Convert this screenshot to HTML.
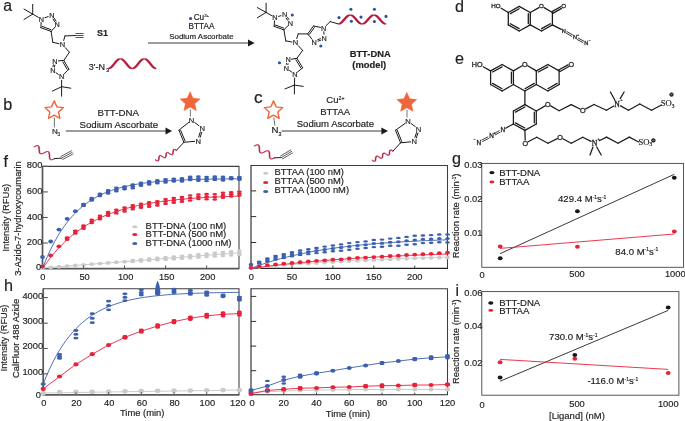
<!DOCTYPE html>
<html lang="en"><head><meta charset="utf-8"><title>BTT-DNA figure</title>
<style>html,body{margin:0;padding:0;background:#fff;}body{width:685px;height:421px;overflow:hidden;}svg{display:block;}svg text{font-family:"Liberation Sans", sans-serif;stroke:#1f1f1f;stroke-width:0.18px;}</style></head><body>
<svg width="685" height="421" viewBox="0 0 685 421">
<rect width="685" height="421" fill="#fff"/>
<text x="3.2" y="11" font-size="15.8" text-anchor="start" fill="#1f1f1f" >a</text>
<text x="3.2" y="110.3" font-size="16.2" text-anchor="start" fill="#1f1f1f" >b</text>
<text x="253.9" y="102.7" font-size="17.2" text-anchor="start" fill="#1f1f1f" style='stroke-width:0.25px' >c</text>
<text x="455" y="12" font-size="16.2" text-anchor="start" fill="#1f1f1f" >d</text>
<text x="455" y="63.8" font-size="16.2" text-anchor="start" fill="#1f1f1f" >e</text>
<text x="3.6" y="166.5" font-size="16.2" text-anchor="start" fill="#1f1f1f" >f</text>
<text x="452" y="164.3" font-size="16.2" text-anchor="start" fill="#1f1f1f" >g</text>
<text x="4" y="291" font-size="16.2" text-anchor="start" fill="#1f1f1f" >h</text>
<text x="455.4" y="296.3" font-size="15.6" text-anchor="start" fill="#1f1f1f" >i</text>
<line x1="32.7" y1="14.1" x2="32.7" y2="4.4" stroke="#1c1c1c" stroke-width="1.0" stroke-linecap="round"/>
<line x1="32.7" y1="14.1" x2="24" y2="9.05" stroke="#1c1c1c" stroke-width="1.0" stroke-linecap="round"/>
<line x1="32.7" y1="14.1" x2="24" y2="19.5" stroke="#1c1c1c" stroke-width="1.0" stroke-linecap="round"/>
<line x1="32.7" y1="14.1" x2="38.43" y2="17.37" stroke="#1c1c1c" stroke-width="1.0" stroke-linecap="round"/>
<line x1="44.98" y1="17.7" x2="48.12" y2="16.6" stroke="#1c1c1c" stroke-width="1.0" stroke-linecap="round"/>
<line x1="54.38" y1="18.32" x2="55.92" y2="21.04" stroke="#1c1c1c" stroke-width="1.0" stroke-linecap="round"/>
<line x1="53.08" y1="19.06" x2="54.62" y2="21.78" stroke="#1c1c1c" stroke-width="1.0" stroke-linecap="round"/>
<line x1="54.89" y1="27.3" x2="51.1" y2="31.4" stroke="#1c1c1c" stroke-width="1.0" stroke-linecap="round"/>
<line x1="51.1" y1="31.4" x2="40.9" y2="27.7" stroke="#1c1c1c" stroke-width="1.0" stroke-linecap="round"/>
<line x1="50.89" y1="29.62" x2="42.2" y2="26.47" stroke="#1c1c1c" stroke-width="1.0" stroke-linecap="round"/>
<line x1="40.9" y1="27.7" x2="41.14" y2="22.4" stroke="#1c1c1c" stroke-width="1.0" stroke-linecap="round"/>
<text x="41.3" y="21.63" font-size="7.3" text-anchor="middle" fill="#1f1f1f" >N</text>
<text x="51.8" y="17.93" font-size="7.3" text-anchor="middle" fill="#1f1f1f" >N</text>
<text x="57.2" y="27.43" font-size="7.3" text-anchor="middle" fill="#1f1f1f" >N</text>
<line x1="51.1" y1="31.4" x2="52.8" y2="42.3" stroke="#1c1c1c" stroke-width="1.0" stroke-linecap="round"/>
<line x1="52.8" y1="42.3" x2="58.99" y2="43.7" stroke="#1c1c1c" stroke-width="1.0" stroke-linecap="round"/>
<text x="62.5" y="47.2" font-size="7.5" text-anchor="middle" fill="#1f1f1f" >N</text>
<line x1="63.67" y1="40.47" x2="65" y2="35.9" stroke="#1c1c1c" stroke-width="1.0" stroke-linecap="round"/>
<line x1="65" y1="35.9" x2="75.5" y2="35.5" stroke="#1c1c1c" stroke-width="1.0" stroke-linecap="round"/>
<line x1="75.5" y1="33.5" x2="83.6" y2="33.5" stroke="#1c1c1c" stroke-width="0.75" />
<line x1="75.5" y1="35.5" x2="83.6" y2="35.5" stroke="#1c1c1c" stroke-width="0.75" />
<line x1="75.5" y1="37.5" x2="83.6" y2="37.5" stroke="#1c1c1c" stroke-width="0.75" />
<line x1="65.3" y1="47.63" x2="69.4" y2="52.2" stroke="#1c1c1c" stroke-width="1.0" stroke-linecap="round"/>
<line x1="69.4" y1="52.2" x2="63.8" y2="60.4" stroke="#1c1c1c" stroke-width="1.0" stroke-linecap="round"/>
<line x1="58.34" y1="74.35" x2="56.06" y2="72.85" stroke="#1c1c1c" stroke-width="1.0" stroke-linecap="round"/>
<line x1="52.95" y1="66.73" x2="53.39" y2="64.83" stroke="#1c1c1c" stroke-width="1.0" stroke-linecap="round"/>
<line x1="54.41" y1="67.07" x2="54.85" y2="65.17" stroke="#1c1c1c" stroke-width="1.0" stroke-linecap="round"/>
<line x1="58.39" y1="60.89" x2="63.8" y2="60.4" stroke="#1c1c1c" stroke-width="1.0" stroke-linecap="round"/>
<line x1="63.8" y1="60.4" x2="68.9" y2="69.2" stroke="#1c1c1c" stroke-width="1.0" stroke-linecap="round"/>
<line x1="62.82" y1="61.89" x2="67.11" y2="69.31" stroke="#1c1c1c" stroke-width="1.0" stroke-linecap="round"/>
<line x1="68.9" y1="69.2" x2="64" y2="74.1" stroke="#1c1c1c" stroke-width="1.0" stroke-linecap="round"/>
<text x="61.6" y="79.13" font-size="7.3" text-anchor="middle" fill="#1f1f1f" >N</text>
<text x="52.8" y="73.33" font-size="7.3" text-anchor="middle" fill="#1f1f1f" >N</text>
<text x="55" y="63.83" font-size="7.3" text-anchor="middle" fill="#1f1f1f" >N</text>
<line x1="61.6" y1="86.7" x2="52.4" y2="91.1" stroke="#1c1c1c" stroke-width="1.0" stroke-linecap="round"/>
<line x1="61.6" y1="86.7" x2="70.8" y2="88.2" stroke="#1c1c1c" stroke-width="1.0" stroke-linecap="round"/>
<line x1="61.6" y1="86.7" x2="61.6" y2="96.2" stroke="#1c1c1c" stroke-width="1.0" stroke-linecap="round"/>
<line x1="61.6" y1="86.7" x2="61.6" y2="80.3" stroke="#1c1c1c" stroke-width="1.0" stroke-linecap="round"/>
<text x="96.9" y="36.4" font-size="9.0" text-anchor="start" fill="#1f1f1f" font-weight="bold" >S1</text>
<text x="88.8" y="69.9" font-size="9" text-anchor="start" fill="#1f1f1f" >3'-N</text>
<text x="106.3" y="71.8" font-size="5.4" text-anchor="start" fill="#1f1f1f" >3</text>
<path d="M108.4 67.97 L108.8 67.8 L109.2 67.59 L109.59 67.33 L109.99 67.02 L110.39 66.67 L110.79 66.29 L111.19 65.87 L111.59 65.43 L111.98 64.96 L112.38 64.47 L112.78 63.97 L113.18 63.46 L113.58 62.95 L113.98 62.44 L114.38 61.95 L114.77 61.46 L115.17 61 L115.57 60.56 L115.97 60.15 L116.37 59.78 L116.77 59.44 L117.16 59.15 L117.56 58.9 L117.96 58.7 L118.36 58.55 L118.76 58.45 L119.16 58.4 L119.55 58.41 L119.95 58.47 L120.35 58.58 L120.75 58.47 L121.15 58.41 L121.55 58.4 L121.94 58.45 L122.34 58.55 L122.74 58.7 L123.14 58.9 L123.54 59.15 L123.94 59.44 L124.33 59.78 L124.73 60.15 L125.13 60.56 L125.53 61 L125.93 61.46 L126.33 61.95 L126.72 62.44 L127.12 62.95 L127.52 63.46 L127.92 63.97 L128.32 64.47 L128.72 64.96 L129.11 65.43 L129.51 65.87 L129.91 66.29 L130.31 66.67 L130.71 67.02 L131.1 67.33 L131.5 67.59 L131.9 67.8 L132.3 67.97 L132.7 67.8 L133.1 67.59 L133.5 67.33 L133.89 67.02 L134.29 66.67 L134.69 66.29 L135.09 65.87 L135.49 65.43 L135.88 64.96 L136.28 64.47 L136.68 63.97 L137.08 63.46 L137.48 62.95 L137.88 62.44 L138.28 61.95 L138.67 61.46 L139.07 61 L139.47 60.56 L139.87 60.15 L140.27 59.78 L140.66 59.44 L141.06 59.15 L141.46 58.9 L141.86 58.7 L142.26 58.55 L142.66 58.45 L143.06 58.4 L143.45 58.41 L143.85 58.47 L144.25 58.58 L144.65 58.47 L145.05 58.41 L145.44 58.4 L145.84 58.45 L146.24 58.55 L146.64 58.7 L147.04 58.9 L147.44 59.15 L147.83 59.44 L148.23 59.78 L148.63 60.15 L149.03 60.56 L149.43 61 L149.83 61.46 L150.22 61.95 L150.62 62.44 L151.02 62.95 L151.42 63.46 L151.82 63.97 L152.22 64.47 L152.62 64.96 L153.01 65.43 L153.41 65.87 L153.81 66.29 L154.21 66.67 L154.61 67.02 L155 67.33 L155.4 67.59 L155.8 67.8 L156.2 67.97 L156.2 68.9 L155.8 68.9 L155.4 68.9 L155 68.9 L154.61 68.85 L154.21 68.75 L153.81 68.6 L153.41 68.4 L153.01 68.15 L152.62 67.86 L152.22 67.52 L151.82 67.15 L151.42 66.74 L151.02 66.3 L150.62 65.84 L150.22 65.35 L149.83 64.86 L149.43 64.35 L149.03 63.84 L148.63 63.33 L148.23 62.83 L147.83 62.34 L147.44 61.87 L147.04 61.43 L146.64 61.01 L146.24 60.63 L145.84 60.28 L145.44 59.97 L145.05 59.71 L144.65 59.5 L144.25 59.33 L143.85 59.5 L143.45 59.71 L143.06 59.97 L142.66 60.28 L142.26 60.63 L141.86 61.01 L141.46 61.43 L141.06 61.87 L140.66 62.34 L140.27 62.83 L139.87 63.33 L139.47 63.84 L139.07 64.35 L138.67 64.86 L138.28 65.35 L137.88 65.84 L137.48 66.3 L137.08 66.74 L136.68 67.15 L136.28 67.52 L135.88 67.86 L135.49 68.15 L135.09 68.4 L134.69 68.6 L134.29 68.75 L133.89 68.85 L133.5 68.9 L133.1 68.89 L132.7 68.83 L132.3 68.72 L131.9 68.83 L131.5 68.89 L131.1 68.9 L130.71 68.85 L130.31 68.75 L129.91 68.6 L129.51 68.4 L129.11 68.15 L128.72 67.86 L128.32 67.52 L127.92 67.15 L127.52 66.74 L127.12 66.3 L126.72 65.84 L126.33 65.35 L125.93 64.86 L125.53 64.35 L125.13 63.84 L124.73 63.33 L124.33 62.83 L123.94 62.34 L123.54 61.87 L123.14 61.43 L122.74 61.01 L122.34 60.63 L121.94 60.28 L121.55 59.97 L121.15 59.71 L120.75 59.5 L120.35 59.33 L119.95 59.5 L119.55 59.71 L119.16 59.97 L118.76 60.28 L118.36 60.63 L117.96 61.01 L117.56 61.43 L117.16 61.87 L116.77 62.34 L116.37 62.83 L115.97 63.33 L115.57 63.84 L115.17 64.35 L114.77 64.86 L114.38 65.35 L113.98 65.84 L113.58 66.3 L113.18 66.74 L112.78 67.15 L112.38 67.52 L111.98 67.86 L111.59 68.15 L111.19 68.4 L110.79 68.6 L110.39 68.75 L109.99 68.85 L109.59 68.9 L109.2 68.9 L108.8 68.9 L108.4 68.9Z" fill="#b5183b" stroke="#b5183b" stroke-width="0.3" stroke-linejoin="round"/>
<line x1="148" y1="43" x2="249" y2="43" stroke="#3a3a3a" stroke-width="1.0" />
<polygon points="254.6,43 248,39.6 248,46.4" fill="#1a1a1a"/>
<circle cx="190.6" cy="18.5" r="1.6" fill="#2e4fa3"/>
<text x="201.4" y="19.8" font-size="8.2" text-anchor="middle" fill="#1f1f1f" >Cu<tspan font-size="4.4" dy="-2.6">2+</tspan></text>
<text x="201.5" y="29.2" font-size="8.2" text-anchor="middle" fill="#1f1f1f" >BTTAA</text>
<text x="201.4" y="38.7" font-size="7.95" text-anchor="middle" fill="#1f1f1f" >Sodium Ascorbate</text>
<line x1="266.1" y1="12.4" x2="266.1" y2="3.2" stroke="#1c1c1c" stroke-width="1.0" stroke-linecap="round"/>
<line x1="266.1" y1="12.4" x2="257.3" y2="7.6" stroke="#1c1c1c" stroke-width="1.0" stroke-linecap="round"/>
<line x1="266.1" y1="12.4" x2="257.3" y2="17.8" stroke="#1c1c1c" stroke-width="1.0" stroke-linecap="round"/>
<line x1="266.1" y1="12.4" x2="271.95" y2="15.83" stroke="#1c1c1c" stroke-width="1.0" stroke-linecap="round"/>
<line x1="278.54" y1="16.4" x2="280.96" y2="15.7" stroke="#1c1c1c" stroke-width="1.0" stroke-linecap="round"/>
<line x1="287.5" y1="17.42" x2="288.85" y2="19.44" stroke="#1c1c1c" stroke-width="1.0" stroke-linecap="round"/>
<line x1="286.25" y1="18.26" x2="287.6" y2="20.28" stroke="#1c1c1c" stroke-width="1.0" stroke-linecap="round"/>
<line x1="288.05" y1="25.56" x2="283.9" y2="29.9" stroke="#1c1c1c" stroke-width="1.0" stroke-linecap="round"/>
<line x1="283.9" y1="29.9" x2="274.1" y2="26.3" stroke="#1c1c1c" stroke-width="1.0" stroke-linecap="round"/>
<line x1="283.7" y1="28.12" x2="275.4" y2="25.07" stroke="#1c1c1c" stroke-width="1.0" stroke-linecap="round"/>
<line x1="274.1" y1="26.3" x2="274.53" y2="20.89" stroke="#1c1c1c" stroke-width="1.0" stroke-linecap="round"/>
<text x="274.8" y="20.13" font-size="7.3" text-anchor="middle" fill="#1f1f1f" >N</text>
<text x="284.7" y="17.23" font-size="7.3" text-anchor="middle" fill="#1f1f1f" >N</text>
<text x="290.4" y="25.73" font-size="7.3" text-anchor="middle" fill="#1f1f1f" >N</text>
<circle cx="292.3" cy="15" r="1.55" fill="#2e4fa3"/>
<line x1="283.9" y1="29.9" x2="285.8" y2="40.9" stroke="#1c1c1c" stroke-width="1.0" stroke-linecap="round"/>
<line x1="285.8" y1="40.9" x2="291.95" y2="41.98" stroke="#1c1c1c" stroke-width="1.0" stroke-linecap="round"/>
<text x="295.5" y="45.3" font-size="7.5" text-anchor="middle" fill="#1f1f1f" >N</text>
<line x1="296.74" y1="38.59" x2="298.2" y2="33.9" stroke="#1c1c1c" stroke-width="1.0" stroke-linecap="round"/>
<line x1="298.2" y1="33.9" x2="307.7" y2="33.9" stroke="#1c1c1c" stroke-width="1.0" stroke-linecap="round"/>
<line x1="307.7" y1="33.9" x2="313.5" y2="26" stroke="#1c1c1c" stroke-width="1.0" stroke-linecap="round"/>
<line x1="309.46" y1="34.2" x2="314.32" y2="27.59" stroke="#1c1c1c" stroke-width="1.0" stroke-linecap="round"/>
<line x1="313.5" y1="26" x2="320.46" y2="27.37" stroke="#1c1c1c" stroke-width="1.0" stroke-linecap="round"/>
<line x1="323.89" y1="31.8" x2="324.01" y2="34.2" stroke="#1c1c1c" stroke-width="1.0" stroke-linecap="round"/>
<line x1="320.84" y1="40.12" x2="318.11" y2="41.18" stroke="#1c1c1c" stroke-width="1.0" stroke-linecap="round"/>
<line x1="320.29" y1="38.72" x2="317.56" y2="39.78" stroke="#1c1c1c" stroke-width="1.0" stroke-linecap="round"/>
<line x1="312.12" y1="39.34" x2="307.7" y2="33.9" stroke="#1c1c1c" stroke-width="1.0" stroke-linecap="round"/>
<text x="323.7" y="30.63" font-size="7.3" text-anchor="middle" fill="#1f1f1f" >N</text>
<text x="324.2" y="40.63" font-size="7.3" text-anchor="middle" fill="#1f1f1f" >N</text>
<text x="314.2" y="44.53" font-size="7.3" text-anchor="middle" fill="#1f1f1f" >N</text>
<circle cx="320.8" cy="46" r="1.55" fill="#2e4fa3"/>
<line x1="326.12" y1="25.61" x2="330.2" y2="21.6" stroke="#1c1c1c" stroke-width="1.0" stroke-linecap="round"/>
<line x1="330.2" y1="21.6" x2="337.9" y2="23.8" stroke="#1c1c1c" stroke-width="1.0" stroke-linecap="round"/>
<circle cx="339" cy="17.6" r="1.55" fill="#2e4fa3"/>
<line x1="298.33" y1="45.71" x2="302.6" y2="50.4" stroke="#1c1c1c" stroke-width="1.0" stroke-linecap="round"/>
<line x1="302.6" y1="50.4" x2="296.9" y2="58.3" stroke="#1c1c1c" stroke-width="1.0" stroke-linecap="round"/>
<line x1="291.6" y1="71.98" x2="289.5" y2="70.52" stroke="#1c1c1c" stroke-width="1.0" stroke-linecap="round"/>
<line x1="286.37" y1="64.33" x2="286.56" y2="63.46" stroke="#1c1c1c" stroke-width="1.0" stroke-linecap="round"/>
<line x1="287.84" y1="64.64" x2="288.03" y2="63.77" stroke="#1c1c1c" stroke-width="1.0" stroke-linecap="round"/>
<line x1="291.45" y1="59.23" x2="296.9" y2="58.3" stroke="#1c1c1c" stroke-width="1.0" stroke-linecap="round"/>
<line x1="296.9" y1="58.3" x2="302.7" y2="67.8" stroke="#1c1c1c" stroke-width="1.0" stroke-linecap="round"/>
<line x1="295.95" y1="59.82" x2="300.92" y2="67.95" stroke="#1c1c1c" stroke-width="1.0" stroke-linecap="round"/>
<line x1="302.7" y1="67.8" x2="297.44" y2="72.06" stroke="#1c1c1c" stroke-width="1.0" stroke-linecap="round"/>
<text x="294.8" y="76.83" font-size="7.3" text-anchor="middle" fill="#1f1f1f" >N</text>
<text x="286.3" y="70.93" font-size="7.3" text-anchor="middle" fill="#1f1f1f" >N</text>
<text x="288.1" y="62.43" font-size="7.3" text-anchor="middle" fill="#1f1f1f" >N</text>
<circle cx="279.5" cy="62.8" r="1.55" fill="#2e4fa3"/>
<line x1="294.4" y1="85.1" x2="285" y2="88.9" stroke="#1c1c1c" stroke-width="1.0" stroke-linecap="round"/>
<line x1="294.4" y1="85.1" x2="303.2" y2="86.4" stroke="#1c1c1c" stroke-width="1.0" stroke-linecap="round"/>
<line x1="294.4" y1="85.1" x2="294.4" y2="93.9" stroke="#1c1c1c" stroke-width="1.0" stroke-linecap="round"/>
<line x1="294.4" y1="85.1" x2="294.66" y2="78" stroke="#1c1c1c" stroke-width="1.0" stroke-linecap="round"/>
<path d="M338.3 23.48 L338.7 23.32 L339.09 23.12 L339.49 22.88 L339.89 22.6 L340.28 22.28 L340.68 21.92 L341.08 21.53 L341.47 21.12 L341.87 20.68 L342.27 20.23 L342.66 19.76 L343.06 19.29 L343.46 18.82 L343.85 18.35 L344.25 17.89 L344.65 17.44 L345.04 17.01 L345.44 16.6 L345.84 16.22 L346.23 15.88 L346.63 15.56 L347.03 15.29 L347.42 15.06 L347.82 14.88 L348.22 14.74 L348.61 14.65 L349.01 14.6 L349.41 14.61 L349.8 14.67 L350.2 14.77 L350.6 14.67 L350.99 14.61 L351.39 14.6 L351.79 14.65 L352.18 14.74 L352.58 14.88 L352.98 15.06 L353.37 15.29 L353.77 15.56 L354.17 15.88 L354.56 16.22 L354.96 16.6 L355.36 17.01 L355.75 17.44 L356.15 17.89 L356.55 18.35 L356.94 18.82 L357.34 19.29 L357.74 19.76 L358.13 20.23 L358.53 20.68 L358.93 21.12 L359.32 21.53 L359.72 21.92 L360.12 22.28 L360.51 22.6 L360.91 22.88 L361.31 23.12 L361.7 23.32 L362.1 23.48 L362.5 23.32 L362.89 23.12 L363.29 22.88 L363.69 22.6 L364.08 22.28 L364.48 21.92 L364.88 21.53 L365.27 21.12 L365.67 20.68 L366.07 20.23 L366.46 19.76 L366.86 19.29 L367.26 18.82 L367.65 18.35 L368.05 17.89 L368.45 17.44 L368.84 17.01 L369.24 16.6 L369.64 16.22 L370.03 15.88 L370.43 15.56 L370.83 15.29 L371.22 15.06 L371.62 14.88 L372.02 14.74 L372.41 14.65 L372.81 14.6 L373.21 14.61 L373.6 14.67 L374 14.77 L374.4 14.67 L374.79 14.61 L375.19 14.6 L375.59 14.65 L375.98 14.74 L376.38 14.88 L376.78 15.06 L377.17 15.29 L377.57 15.56 L377.97 15.88 L378.36 16.22 L378.76 16.6 L379.16 17.01 L379.55 17.44 L379.95 17.89 L380.35 18.35 L380.74 18.82 L381.14 19.29 L381.54 19.76 L381.93 20.23 L382.33 20.68 L382.73 21.12 L383.12 21.53 L383.52 21.92 L383.92 22.28 L384.31 22.6 L384.71 22.88 L385.11 23.12 L385.5 23.32 L385.9 23.48 L385.9 24.4 L385.5 24.4 L385.11 24.4 L384.71 24.4 L384.31 24.35 L383.92 24.26 L383.52 24.12 L383.12 23.94 L382.73 23.71 L382.33 23.44 L381.93 23.12 L381.54 22.78 L381.14 22.4 L380.74 21.99 L380.35 21.56 L379.95 21.11 L379.55 20.65 L379.16 20.18 L378.76 19.71 L378.36 19.24 L377.97 18.77 L377.57 18.32 L377.17 17.88 L376.78 17.47 L376.38 17.08 L375.98 16.72 L375.59 16.4 L375.19 16.12 L374.79 15.88 L374.4 15.68 L374 15.52 L373.6 15.68 L373.21 15.88 L372.81 16.12 L372.41 16.4 L372.02 16.72 L371.62 17.08 L371.22 17.47 L370.83 17.88 L370.43 18.32 L370.03 18.77 L369.64 19.24 L369.24 19.71 L368.84 20.18 L368.45 20.65 L368.05 21.11 L367.65 21.56 L367.26 21.99 L366.86 22.4 L366.46 22.78 L366.07 23.12 L365.67 23.44 L365.27 23.71 L364.88 23.94 L364.48 24.12 L364.08 24.26 L363.69 24.35 L363.29 24.4 L362.89 24.39 L362.5 24.33 L362.1 24.23 L361.7 24.33 L361.31 24.39 L360.91 24.4 L360.51 24.35 L360.12 24.26 L359.72 24.12 L359.32 23.94 L358.93 23.71 L358.53 23.44 L358.13 23.12 L357.74 22.78 L357.34 22.4 L356.94 21.99 L356.55 21.56 L356.15 21.11 L355.75 20.65 L355.36 20.18 L354.96 19.71 L354.56 19.24 L354.17 18.77 L353.77 18.32 L353.37 17.88 L352.98 17.47 L352.58 17.08 L352.18 16.72 L351.79 16.4 L351.39 16.12 L350.99 15.88 L350.6 15.68 L350.2 15.52 L349.8 15.68 L349.41 15.88 L349.01 16.12 L348.61 16.4 L348.22 16.72 L347.82 17.08 L347.42 17.47 L347.03 17.88 L346.63 18.32 L346.23 18.77 L345.84 19.24 L345.44 19.71 L345.04 20.18 L344.65 20.65 L344.25 21.11 L343.85 21.56 L343.46 21.99 L343.06 22.4 L342.66 22.78 L342.27 23.12 L341.87 23.44 L341.47 23.71 L341.08 23.94 L340.68 24.12 L340.28 24.26 L339.89 24.35 L339.49 24.4 L339.09 24.4 L338.7 24.4 L338.3 24.4Z" fill="#b5183b" stroke="#b5183b" stroke-width="0.3" stroke-linejoin="round"/>
<circle cx="350.9" cy="9.2" r="1.55" fill="#2e4fa3"/>
<circle cx="351.4" cy="21.3" r="1.55" fill="#2e4fa3"/>
<circle cx="361" cy="17.1" r="1.55" fill="#2e4fa3"/>
<circle cx="374.4" cy="9.2" r="1.55" fill="#2e4fa3"/>
<circle cx="374.4" cy="21.5" r="1.55" fill="#2e4fa3"/>
<circle cx="386" cy="16.4" r="1.55" fill="#2e4fa3"/>
<text x="370.2" y="57" font-size="9.4" text-anchor="middle" fill="#1f1f1f" font-weight="bold" >BTT-DNA</text>
<text x="369.2" y="67.8" font-size="9.4" text-anchor="middle" fill="#1f1f1f" font-weight="bold" >(model)</text>
<line x1="54.4" y1="117.4" x2="54.4" y2="127.4" stroke="#444" stroke-width="0.75" />
<polygon points="54.2,100.9 56.88,106.91 63.43,107.6 58.54,112.01 59.9,118.45 54.2,115.16 48.5,118.45 49.86,112.01 44.97,107.6 51.52,106.91" fill="#fff" stroke="#f0653b" stroke-width="1.4" stroke-linejoin="round"/>
<text x="51.9" y="134.1" font-size="8" text-anchor="start" fill="#1f1f1f" >N</text>
<text x="57.6" y="135.6" font-size="4.6" text-anchor="start" fill="#1f1f1f" >3</text>
<line x1="65.8" y1="131" x2="166.5" y2="131" stroke="#3a3a3a" stroke-width="1.0" />
<polygon points="172.1,131 165.5,127.6 165.5,134.4" fill="#1a1a1a"/>
<text x="118.2" y="116.2" font-size="9.7" text-anchor="middle" fill="#1f1f1f" >BTT-DNA</text>
<text x="118.8" y="127.6" font-size="9.7" text-anchor="middle" fill="#1f1f1f" >Sodium Ascorbate</text>
<path d="M34.55 146.8 35.09 146.53 35.61 146.27 36.13 146.03 36.62 145.84 37.08 145.69 37.51 145.61 37.9 145.59 38.25 145.64 38.56 145.76 38.82 145.96 39.04 146.24 39.22 146.59 39.36 147.01 39.47 147.48 39.54 148 39.6 148.56 39.64 149.15 39.68 149.75 39.71 150.35 39.75 150.94 39.81 151.5 39.88 152.02 39.99 152.49 40.13 152.91 40.31 153.26 40.53 153.54 40.79 153.74 41.1 153.86 41.45 153.91 41.84 153.89 42.27 153.81 42.73 153.66 43.22 153.47 43.74 153.23 44.26 152.97 44.8 152.7 45.34 152.43 45.86 152.17 46.38 151.93 46.87 151.74 47.33 151.59 47.76 151.51 48.15 151.49 48.5 151.54 48.81 151.66 49.07 151.86 49.29 152.14 49.47 152.49 49.61 152.91 49.72 153.38 49.79 153.9 49.85 154.46 49.89 155.05 49.93 155.65 49.96 156.25 50 156.84 50.06 157.4 50.13 157.92 50.24 158.39 50.38 158.81 50.56 159.16 50.78 159.44 51.04 159.64 51.35 159.76 51.7 159.81 52.09 159.79 52.52 159.71 52.98 159.56 53.47 159.37 53.99 159.13 54.51 158.87 55.05 158.6 54.15 158.6 53.61 158.87 53.09 159.13 52.57 159.37 52.08 159.56 51.62 159.71 51.19 159.79 50.8 159.81 50.45 159.76 50.14 159.64 49.88 159.44 49.66 159.16 49.48 158.81 49.34 158.39 49.23 157.92 49.16 157.4 49.1 156.84 49.06 156.25 49.02 155.65 48.99 155.05 48.95 154.46 48.89 153.9 48.82 153.38 48.71 152.91 48.57 152.49 48.39 152.14 48.17 151.86 47.91 151.66 47.6 151.54 47.25 151.49 46.86 151.51 46.43 151.59 45.97 151.74 45.48 151.93 44.96 152.17 44.44 152.43 43.9 152.7 43.36 152.97 42.84 153.23 42.32 153.47 41.83 153.66 41.37 153.81 40.94 153.89 40.55 153.91 40.2 153.86 39.89 153.74 39.63 153.54 39.41 153.26 39.23 152.91 39.09 152.49 38.98 152.02 38.91 151.5 38.85 150.94 38.81 150.35 38.77 149.75 38.74 149.15 38.7 148.56 38.64 148 38.57 147.48 38.46 147.01 38.32 146.59 38.14 146.24 37.92 145.96 37.66 145.76 37.35 145.64 37 145.59 36.61 145.61 36.18 145.69 35.72 145.84 35.23 146.03 34.71 146.27 34.19 146.53 33.65 146.8Z" fill="#b0193c" stroke="#b0193c" stroke-width="0.6" stroke-linejoin="round"/>
<line x1="54.6" y1="158.5" x2="61.4" y2="158.2" stroke="#1c1c1c" stroke-width="1.0" stroke-linecap="round"/>
<line x1="60.57" y1="156.66" x2="71.77" y2="150.66" stroke="#1c1c1c" stroke-width="0.7" />
<line x1="61.4" y1="158.2" x2="72.6" y2="152.2" stroke="#1c1c1c" stroke-width="0.7" />
<line x1="62.23" y1="159.74" x2="73.43" y2="153.74" stroke="#1c1c1c" stroke-width="0.7" />
<line x1="190.4" y1="109.5" x2="190.4" y2="116.6" stroke="#555" stroke-width="0.8" />
<polygon points="190.1,91.8 192.97,98.25 199.99,98.99 194.75,103.71 196.21,110.61 190.1,107.09 183.99,110.61 185.45,103.71 180.21,98.99 187.23,98.25" fill="#f0653b" stroke="#f0653b" stroke-width="0.6" stroke-linejoin="round"/>
<line x1="194.79" y1="122.64" x2="199.01" y2="125.76" stroke="#1c1c1c" stroke-width="1.0" stroke-linecap="round"/>
<line x1="201.76" y1="132.33" x2="200.16" y2="137.32" stroke="#1c1c1c" stroke-width="1.0" stroke-linecap="round"/>
<line x1="200.34" y1="131.88" x2="198.74" y2="136.87" stroke="#1c1c1c" stroke-width="1.0" stroke-linecap="round"/>
<line x1="194.61" y1="141.33" x2="183.9" y2="142.3" stroke="#1c1c1c" stroke-width="1.0" stroke-linecap="round"/>
<line x1="183.9" y1="142.3" x2="178.9" y2="130.2" stroke="#1c1c1c" stroke-width="1.0" stroke-linecap="round"/>
<line x1="185.07" y1="140.95" x2="180.68" y2="130.33" stroke="#1c1c1c" stroke-width="1.0" stroke-linecap="round"/>
<line x1="178.9" y1="130.2" x2="188.68" y2="122.44" stroke="#1c1c1c" stroke-width="1.0" stroke-linecap="round"/>
<text x="191.5" y="122.94" font-size="7.6" text-anchor="middle" fill="#1f1f1f" >N</text>
<text x="202.3" y="130.94" font-size="7.6" text-anchor="middle" fill="#1f1f1f" >N</text>
<text x="198.2" y="143.74" font-size="7.6" text-anchor="middle" fill="#1f1f1f" >N</text>
<line x1="183.9" y1="142.3" x2="176.4" y2="150.3" stroke="#1c1c1c" stroke-width="1.0" stroke-linecap="round"/>
<path d="M177.05 150.5 176.54 150.13 176.04 149.8 175.57 149.53 175.14 149.35 174.76 149.29 174.44 149.35 174.17 149.55 173.96 149.87 173.8 150.3 173.68 150.83 173.59 151.42 173.52 152.05 173.44 152.68 173.35 153.27 173.23 153.8 173.07 154.23 172.86 154.55 172.59 154.75 172.27 154.81 171.89 154.75 171.46 154.57 170.99 154.3 170.5 153.97 169.98 153.6 169.47 153.23 168.97 152.9 168.5 152.63 168.07 152.45 167.7 152.39 167.37 152.45 167.11 152.65 166.9 152.97 166.74 153.4 166.62 153.93 166.53 154.52 166.45 155.15 166.37 155.78 166.28 156.37 166.16 156.9 166 157.33 165.79 157.65 165.53 157.85 165.2 157.91 164.83 157.85 164.4 157.67 163.93 157.4 163.43 157.07 162.92 156.7 162.4 156.33 161.91 156 161.44 155.73 161.01 155.55 160.63 155.49 160.31 155.55 160.04 155.75 159.83 156.07 159.67 156.5 159.55 157.03 159.46 157.62 159.38 158.25 159.31 158.88 159.22 159.47 159.1 160 158.94 160.43 158.73 160.75 158.46 160.95 158.14 161.01 157.76 160.95 157.33 160.77 156.86 160.5 156.36 160.17 155.85 159.8 154.95 159.8 155.46 160.17 155.96 160.5 156.43 160.77 156.86 160.95 157.24 161.01 157.56 160.95 157.83 160.75 158.04 160.43 158.2 160 158.32 159.47 158.41 158.88 158.48 158.25 158.56 157.62 158.65 157.03 158.77 156.5 158.93 156.07 159.14 155.75 159.41 155.55 159.73 155.49 160.11 155.55 160.54 155.73 161.01 156 161.5 156.33 162.02 156.7 162.53 157.07 163.03 157.4 163.5 157.67 163.93 157.85 164.3 157.91 164.63 157.85 164.89 157.65 165.1 157.33 165.26 156.9 165.38 156.37 165.47 155.78 165.55 155.15 165.63 154.52 165.72 153.93 165.84 153.4 166 152.97 166.21 152.65 166.47 152.45 166.8 152.39 167.17 152.45 167.6 152.63 168.07 152.9 168.57 153.23 169.08 153.6 169.6 153.97 170.09 154.3 170.56 154.57 170.99 154.75 171.37 154.81 171.69 154.75 171.96 154.55 172.17 154.23 172.33 153.8 172.45 153.27 172.54 152.68 172.62 152.05 172.69 151.42 172.78 150.83 172.9 150.3 173.06 149.87 173.27 149.55 173.54 149.35 173.86 149.29 174.24 149.35 174.67 149.53 175.14 149.8 175.64 150.13 176.15 150.5Z" fill="#b0193c" stroke="#b0193c" stroke-width="0.6" stroke-linejoin="round"/>
<line x1="273.8" y1="117.4" x2="274.9" y2="125.6" stroke="#444" stroke-width="0.75" />
<polygon points="273.5,100.9 276.18,106.91 282.73,107.6 277.84,112.01 279.2,118.45 273.5,115.16 267.8,118.45 269.16,112.01 264.27,107.6 270.82,106.91" fill="#fff" stroke="#f0653b" stroke-width="1.4" stroke-linejoin="round"/>
<text x="271.4" y="133.4" font-size="9.6" text-anchor="start" fill="#1f1f1f" >N</text>
<text x="278.4" y="135.6" font-size="5.2" text-anchor="start" fill="#1f1f1f" >3</text>
<line x1="281.5" y1="131" x2="382.4" y2="131" stroke="#3a3a3a" stroke-width="1.0" />
<polygon points="388,131 381.4,127.6 381.4,134.4" fill="#1a1a1a"/>
<text x="335.4" y="103" font-size="9.5" text-anchor="middle" fill="#1f1f1f" >Cu<tspan font-size="5.2" dy="-3">2+</tspan></text>
<text x="335.2" y="115.4" font-size="9.55" text-anchor="middle" fill="#1f1f1f" >BTTAA</text>
<text x="335.4" y="126.8" font-size="9.54" text-anchor="middle" fill="#1f1f1f" >Sodium Ascorbate</text>
<path d="M254.75 146 255.29 145.73 255.81 145.47 256.32 145.24 256.81 145.04 257.28 144.9 257.7 144.81 258.09 144.79 258.44 144.84 258.74 144.97 259 145.17 259.22 145.45 259.4 145.8 259.53 146.21 259.63 146.68 259.71 147.2 259.76 147.76 259.8 148.35 259.82 148.95 259.85 149.55 259.89 150.14 259.94 150.7 260.02 151.22 260.12 151.69 260.25 152.1 260.43 152.45 260.65 152.73 260.91 152.93 261.21 153.06 261.56 153.11 261.95 153.09 262.37 153 262.84 152.86 263.33 152.66 263.84 152.43 264.36 152.17 264.9 151.9 265.44 151.63 265.96 151.37 266.47 151.14 266.96 150.94 267.43 150.8 267.85 150.71 268.24 150.69 268.59 150.74 268.89 150.87 269.15 151.07 269.37 151.35 269.55 151.7 269.68 152.11 269.78 152.58 269.86 153.1 269.91 153.66 269.95 154.25 269.98 154.85 270 155.45 270.04 156.04 270.09 156.6 270.17 157.12 270.27 157.59 270.4 158 270.58 158.35 270.8 158.63 271.06 158.83 271.36 158.96 271.71 159.01 272.1 158.99 272.52 158.9 272.99 158.76 273.48 158.56 273.99 158.33 274.51 158.07 275.05 157.8 274.15 157.8 273.61 158.07 273.09 158.33 272.58 158.56 272.09 158.76 271.62 158.9 271.2 158.99 270.81 159.01 270.46 158.96 270.16 158.83 269.9 158.63 269.68 158.35 269.5 158 269.37 157.59 269.27 157.12 269.19 156.6 269.14 156.04 269.1 155.45 269.08 154.85 269.05 154.25 269.01 153.66 268.96 153.1 268.88 152.58 268.78 152.11 268.65 151.7 268.47 151.35 268.25 151.07 267.99 150.87 267.69 150.74 267.34 150.69 266.95 150.71 266.53 150.8 266.06 150.94 265.57 151.14 265.06 151.37 264.54 151.63 264 151.9 263.46 152.17 262.94 152.43 262.43 152.66 261.94 152.86 261.47 153 261.05 153.09 260.66 153.11 260.31 153.06 260.01 152.93 259.75 152.73 259.53 152.45 259.35 152.1 259.22 151.69 259.12 151.22 259.04 150.7 258.99 150.14 258.95 149.55 258.93 148.95 258.9 148.35 258.86 147.76 258.81 147.2 258.73 146.68 258.63 146.21 258.5 145.8 258.32 145.45 258.1 145.17 257.84 144.97 257.54 144.84 257.19 144.79 256.8 144.81 256.38 144.9 255.91 145.04 255.42 145.24 254.91 145.47 254.39 145.73 253.85 146Z" fill="#b0193c" stroke="#b0193c" stroke-width="0.6" stroke-linejoin="round"/>
<line x1="274.6" y1="157.8" x2="281.2" y2="157.6" stroke="#1c1c1c" stroke-width="1.0" stroke-linecap="round"/>
<line x1="280.31" y1="156.09" x2="291.11" y2="149.69" stroke="#1c1c1c" stroke-width="0.7" />
<line x1="281.2" y1="157.6" x2="292" y2="151.2" stroke="#1c1c1c" stroke-width="0.7" />
<line x1="282.09" y1="159.11" x2="292.89" y2="152.71" stroke="#1c1c1c" stroke-width="0.7" />
<line x1="407" y1="110" x2="407" y2="117.6" stroke="#555" stroke-width="0.8" />
<polygon points="406.8,92.4 409.67,98.85 416.69,99.59 411.45,104.31 412.91,111.21 406.8,107.69 400.69,111.21 402.15,104.31 396.91,99.59 403.93,98.85" fill="#f0653b" stroke="#f0653b" stroke-width="0.6" stroke-linejoin="round"/>
<line x1="411.35" y1="123.77" x2="415.25" y2="126.53" stroke="#1c1c1c" stroke-width="1.0" stroke-linecap="round"/>
<line x1="417.99" y1="133.02" x2="416.33" y2="137.86" stroke="#1c1c1c" stroke-width="1.0" stroke-linecap="round"/>
<line x1="416.57" y1="132.54" x2="414.91" y2="137.38" stroke="#1c1c1c" stroke-width="1.0" stroke-linecap="round"/>
<line x1="410.72" y1="141.84" x2="400.5" y2="142.8" stroke="#1c1c1c" stroke-width="1.0" stroke-linecap="round"/>
<line x1="400.5" y1="142.8" x2="395.5" y2="130.2" stroke="#1c1c1c" stroke-width="1.0" stroke-linecap="round"/>
<line x1="401.69" y1="141.47" x2="397.28" y2="130.35" stroke="#1c1c1c" stroke-width="1.0" stroke-linecap="round"/>
<line x1="395.5" y1="130.2" x2="405.06" y2="123.47" stroke="#1c1c1c" stroke-width="1.0" stroke-linecap="round"/>
<text x="408" y="124.14" font-size="7.6" text-anchor="middle" fill="#1f1f1f" >N</text>
<text x="418.6" y="131.64" font-size="7.6" text-anchor="middle" fill="#1f1f1f" >N</text>
<text x="414.3" y="144.24" font-size="7.6" text-anchor="middle" fill="#1f1f1f" >N</text>
<line x1="400.5" y1="142.8" x2="393" y2="151.1" stroke="#1c1c1c" stroke-width="1.0" stroke-linecap="round"/>
<path d="M393.45 151.1 392.94 150.73 392.45 150.39 391.99 150.12 391.57 149.94 391.19 149.87 390.87 149.93 390.61 150.13 390.41 150.44 390.25 150.88 390.14 151.4 390.05 151.99 389.98 152.62 389.91 153.24 389.83 153.83 389.71 154.36 389.56 154.79 389.35 155.11 389.09 155.3 388.77 155.36 388.4 155.29 387.98 155.11 387.52 154.84 387.02 154.5 386.52 154.13 386.01 153.76 385.52 153.42 385.05 153.15 384.63 152.97 384.26 152.91 383.94 152.97 383.68 153.16 383.48 153.48 383.32 153.91 383.21 154.44 383.12 155.03 383.05 155.65 382.98 156.27 382.89 156.86 382.78 157.39 382.62 157.82 382.42 158.14 382.16 158.33 381.84 158.39 381.47 158.33 381.05 158.15 380.58 157.88 380.09 157.54 379.58 157.17 379.08 156.8 378.58 156.46 378.12 156.19 377.7 156.01 377.33 155.94 377.01 156 376.75 156.19 376.54 156.51 376.39 156.94 376.27 157.47 376.19 158.06 376.12 158.68 376.05 159.31 375.96 159.9 375.85 160.42 375.69 160.86 375.49 161.17 375.23 161.37 374.91 161.43 374.53 161.36 374.11 161.18 373.65 160.91 373.16 160.57 372.65 160.2 371.75 160.2 372.26 160.57 372.75 160.91 373.21 161.18 373.63 161.36 374.01 161.43 374.33 161.37 374.59 161.17 374.79 160.86 374.95 160.42 375.06 159.9 375.15 159.31 375.22 158.68 375.29 158.06 375.37 157.47 375.49 156.94 375.64 156.51 375.85 156.19 376.11 156 376.43 155.94 376.8 156.01 377.22 156.19 377.68 156.46 378.18 156.8 378.68 157.17 379.19 157.54 379.68 157.88 380.15 158.15 380.57 158.33 380.94 158.39 381.26 158.33 381.52 158.14 381.72 157.82 381.88 157.39 381.99 156.86 382.08 156.27 382.15 155.65 382.22 155.03 382.31 154.44 382.42 153.91 382.58 153.48 382.78 153.16 383.04 152.97 383.36 152.91 383.73 152.97 384.15 153.15 384.62 153.42 385.11 153.76 385.62 154.13 386.12 154.5 386.62 154.84 387.08 155.11 387.5 155.29 387.87 155.36 388.19 155.3 388.45 155.11 388.66 154.79 388.81 154.36 388.93 153.83 389.01 153.24 389.08 152.62 389.15 151.99 389.24 151.4 389.35 150.88 389.51 150.44 389.71 150.13 389.97 149.93 390.29 149.87 390.67 149.94 391.09 150.12 391.55 150.39 392.04 150.73 392.55 151.1Z" fill="#b0193c" stroke="#b0193c" stroke-width="0.6" stroke-linejoin="round"/>
<line x1="508.3" y1="12.5" x2="519.2" y2="6.4" stroke="#1c1c1c" stroke-width="1.3" stroke-linecap="round"/>
<line x1="510.32" y1="13.66" x2="519.13" y2="8.73" stroke="#1c1c1c" stroke-width="1.3" stroke-linecap="round"/>
<line x1="519.2" y1="6.4" x2="530.3" y2="12.5" stroke="#1c1c1c" stroke-width="1.3" stroke-linecap="round"/>
<line x1="530.3" y1="12.5" x2="530.3" y2="24.9" stroke="#1c1c1c" stroke-width="1.3" stroke-linecap="round"/>
<line x1="528.3" y1="13.7" x2="528.3" y2="23.7" stroke="#1c1c1c" stroke-width="1.3" stroke-linecap="round"/>
<line x1="530.3" y1="24.9" x2="519.2" y2="31" stroke="#1c1c1c" stroke-width="1.3" stroke-linecap="round"/>
<line x1="519.2" y1="31" x2="508.3" y2="24.9" stroke="#1c1c1c" stroke-width="1.3" stroke-linecap="round"/>
<line x1="519.13" y1="28.67" x2="510.32" y2="23.74" stroke="#1c1c1c" stroke-width="1.3" stroke-linecap="round"/>
<line x1="508.3" y1="24.9" x2="508.3" y2="12.5" stroke="#1c1c1c" stroke-width="1.3" stroke-linecap="round"/>
<line x1="530.3" y1="12.5" x2="538.9" y2="7.59" stroke="#1c1c1c" stroke-width="1.3" stroke-linecap="round"/>
<line x1="544.09" y1="7.62" x2="552.4" y2="12.5" stroke="#1c1c1c" stroke-width="1.3" stroke-linecap="round"/>
<line x1="552.4" y1="12.5" x2="552.4" y2="24.9" stroke="#1c1c1c" stroke-width="1.3" stroke-linecap="round"/>
<line x1="552.4" y1="24.9" x2="541.5" y2="31" stroke="#1c1c1c" stroke-width="1.3" stroke-linecap="round"/>
<line x1="550.38" y1="23.74" x2="541.57" y2="28.67" stroke="#1c1c1c" stroke-width="1.3" stroke-linecap="round"/>
<line x1="541.5" y1="31" x2="530.3" y2="24.9" stroke="#1c1c1c" stroke-width="1.3" stroke-linecap="round"/>
<line x1="551.93" y1="11.67" x2="560.62" y2="6.75" stroke="#1c1c1c" stroke-width="1.3" stroke-linecap="round"/>
<line x1="552.87" y1="13.33" x2="561.56" y2="8.41" stroke="#1c1c1c" stroke-width="1.3" stroke-linecap="round"/>
<text x="541.5" y="8.33" font-size="6.2" text-anchor="middle" fill="#1f1f1f" style='stroke-width:0.3px' >O</text>
<text x="563.7" y="8.33" font-size="6.2" text-anchor="middle" fill="#1f1f1f" style='stroke-width:0.3px' >O</text>
<text x="491.3" y="8" font-size="6.2" text-anchor="start" fill="#1f1f1f" style='stroke-width:0.3px' >HO</text>
<line x1="501.2" y1="8.2" x2="508.3" y2="12.5" stroke="#1c1c1c" stroke-width="1.3" stroke-linecap="round"/>
<line x1="552.4" y1="24.9" x2="561.2" y2="29.34" stroke="#1c1c1c" stroke-width="1.3" stroke-linecap="round"/>
<line x1="567.05" y1="31.62" x2="572.42" y2="34.83" stroke="#1c1c1c" stroke-width="0.9" stroke-linecap="round"/>
<line x1="566.18" y1="33.07" x2="571.55" y2="36.28" stroke="#1c1c1c" stroke-width="0.9" stroke-linecap="round"/>
<line x1="578.3" y1="38.17" x2="583.61" y2="41.04" stroke="#1c1c1c" stroke-width="0.9" stroke-linecap="round"/>
<line x1="577.49" y1="39.66" x2="582.8" y2="42.53" stroke="#1c1c1c" stroke-width="0.9" stroke-linecap="round"/>
<text x="563.7" y="32.62" font-size="5.6" text-anchor="middle" fill="#1f1f1f" style='stroke-width:0.3px' >N</text>
<text x="574.9" y="39.32" font-size="5.6" text-anchor="middle" fill="#1f1f1f" style='stroke-width:0.3px' >N</text>
<text x="586.2" y="45.42" font-size="5.6" text-anchor="middle" fill="#1f1f1f" style='stroke-width:0.3px' >N</text>
<text x="577" y="35.6" font-size="3.6" text-anchor="start" fill="#1f1f1f" >+</text>
<text x="588.4" y="41.8" font-size="3.6" text-anchor="start" fill="#1f1f1f" >−</text>
<line x1="490.6" y1="70.9" x2="502.1" y2="64.5" stroke="#1c1c1c" stroke-width="1.25" stroke-linecap="round"/>
<line x1="492.62" y1="72.06" x2="502.02" y2="66.83" stroke="#1c1c1c" stroke-width="1.25" stroke-linecap="round"/>
<line x1="502.1" y1="64.5" x2="513.4" y2="70.9" stroke="#1c1c1c" stroke-width="1.25" stroke-linecap="round"/>
<line x1="513.4" y1="70.9" x2="513.4" y2="84.5" stroke="#1c1c1c" stroke-width="1.25" stroke-linecap="round"/>
<line x1="511.4" y1="72.1" x2="511.4" y2="83.3" stroke="#1c1c1c" stroke-width="1.25" stroke-linecap="round"/>
<line x1="513.4" y1="84.5" x2="502.1" y2="91" stroke="#1c1c1c" stroke-width="1.25" stroke-linecap="round"/>
<line x1="502.1" y1="91" x2="490.6" y2="84.5" stroke="#1c1c1c" stroke-width="1.25" stroke-linecap="round"/>
<line x1="502.04" y1="88.67" x2="492.63" y2="83.35" stroke="#1c1c1c" stroke-width="1.25" stroke-linecap="round"/>
<line x1="490.6" y1="84.5" x2="490.6" y2="70.9" stroke="#1c1c1c" stroke-width="1.25" stroke-linecap="round"/>
<line x1="513.4" y1="70.9" x2="522.15" y2="65.73" stroke="#1c1c1c" stroke-width="1.25" stroke-linecap="round"/>
<line x1="527.65" y1="65.74" x2="536.3" y2="70.9" stroke="#1c1c1c" stroke-width="1.25" stroke-linecap="round"/>
<line x1="536.3" y1="70.9" x2="536.3" y2="84.5" stroke="#1c1c1c" stroke-width="1.25" stroke-linecap="round"/>
<line x1="536.3" y1="84.5" x2="524.9" y2="91" stroke="#1c1c1c" stroke-width="1.25" stroke-linecap="round"/>
<line x1="534.27" y1="83.36" x2="524.95" y2="88.67" stroke="#1c1c1c" stroke-width="1.25" stroke-linecap="round"/>
<line x1="524.9" y1="91" x2="513.4" y2="84.5" stroke="#1c1c1c" stroke-width="1.25" stroke-linecap="round"/>
<line x1="536.3" y1="70.9" x2="547.9" y2="64.5" stroke="#1c1c1c" stroke-width="1.25" stroke-linecap="round"/>
<line x1="538.32" y1="72.07" x2="547.82" y2="66.83" stroke="#1c1c1c" stroke-width="1.25" stroke-linecap="round"/>
<line x1="547.9" y1="64.5" x2="559.1" y2="70.9" stroke="#1c1c1c" stroke-width="1.25" stroke-linecap="round"/>
<line x1="559.1" y1="70.9" x2="559.1" y2="84.5" stroke="#1c1c1c" stroke-width="1.25" stroke-linecap="round"/>
<line x1="559.1" y1="84.5" x2="547.9" y2="91" stroke="#1c1c1c" stroke-width="1.25" stroke-linecap="round"/>
<line x1="557.06" y1="83.37" x2="547.93" y2="88.67" stroke="#1c1c1c" stroke-width="1.25" stroke-linecap="round"/>
<line x1="547.9" y1="91" x2="536.3" y2="84.5" stroke="#1c1c1c" stroke-width="1.25" stroke-linecap="round"/>
<line x1="558.63" y1="70.07" x2="567.94" y2="64.84" stroke="#1c1c1c" stroke-width="1.25" stroke-linecap="round"/>
<line x1="559.57" y1="71.73" x2="568.88" y2="66.5" stroke="#1c1c1c" stroke-width="1.25" stroke-linecap="round"/>
<text x="524.9" y="66.69" font-size="7.2" text-anchor="middle" fill="#1f1f1f" style='stroke-width:0.3px' >O</text>
<text x="571.2" y="66.69" font-size="7.2" text-anchor="middle" fill="#1f1f1f" style='stroke-width:0.3px' >O</text>
<text x="471.8" y="66.6" font-size="7.2" text-anchor="start" fill="#1f1f1f" style='stroke-width:0.3px' >HO</text>
<line x1="483.2" y1="66.8" x2="490.6" y2="70.9" stroke="#1c1c1c" stroke-width="1.25" stroke-linecap="round"/>
<line x1="524.9" y1="91" x2="524.9" y2="104.6" stroke="#1c1c1c" stroke-width="1.25" stroke-linecap="round"/>
<line x1="524.9" y1="104.6" x2="536.3" y2="111" stroke="#1c1c1c" stroke-width="1.25" stroke-linecap="round"/>
<line x1="536.3" y1="111" x2="536.3" y2="124" stroke="#1c1c1c" stroke-width="1.25" stroke-linecap="round"/>
<line x1="534.3" y1="112.2" x2="534.3" y2="122.8" stroke="#1c1c1c" stroke-width="1.25" stroke-linecap="round"/>
<line x1="536.3" y1="124" x2="524.9" y2="130.4" stroke="#1c1c1c" stroke-width="1.25" stroke-linecap="round"/>
<line x1="524.9" y1="130.4" x2="513.4" y2="124" stroke="#1c1c1c" stroke-width="1.25" stroke-linecap="round"/>
<line x1="524.82" y1="128.07" x2="515.42" y2="122.84" stroke="#1c1c1c" stroke-width="1.25" stroke-linecap="round"/>
<line x1="513.4" y1="124" x2="513.4" y2="111" stroke="#1c1c1c" stroke-width="1.25" stroke-linecap="round"/>
<line x1="513.4" y1="111" x2="524.9" y2="104.6" stroke="#1c1c1c" stroke-width="1.25" stroke-linecap="round"/>
<line x1="515.42" y1="112.16" x2="524.82" y2="106.93" stroke="#1c1c1c" stroke-width="1.25" stroke-linecap="round"/>
<line x1="536.3" y1="111" x2="545.13" y2="105.9" stroke="#1c1c1c" stroke-width="1.25" stroke-linecap="round"/>
<line x1="550.68" y1="105.89" x2="559.1" y2="110.7" stroke="#1c1c1c" stroke-width="1.25" stroke-linecap="round"/>
<line x1="559.1" y1="110.7" x2="571.2" y2="104.6" stroke="#1c1c1c" stroke-width="1.25" stroke-linecap="round"/>
<line x1="571.2" y1="104.6" x2="580.03" y2="108.98" stroke="#1c1c1c" stroke-width="1.25" stroke-linecap="round"/>
<line x1="585.73" y1="108.9" x2="594" y2="104.5" stroke="#1c1c1c" stroke-width="1.25" stroke-linecap="round"/>
<line x1="594" y1="104.5" x2="606.5" y2="110.3" stroke="#1c1c1c" stroke-width="1.25" stroke-linecap="round"/>
<line x1="606.5" y1="110.3" x2="613.74" y2="105.96" stroke="#1c1c1c" stroke-width="1.25" stroke-linecap="round"/>
<text x="547.9" y="106.89" font-size="7.2" text-anchor="middle" fill="#1f1f1f" style='stroke-width:0.3px' >O</text>
<text x="582.9" y="112.99" font-size="7.2" text-anchor="middle" fill="#1f1f1f" style='stroke-width:0.3px' >O</text>
<text x="617" y="106.77" font-size="7.7" text-anchor="middle" fill="#1f1f1f" style='font-family:"Liberation Serif", serif;stroke-width:0.3px' >N</text>
<text x="620.2" y="101" font-size="4.2" text-anchor="start" fill="#1f1f1f" >+</text>
<line x1="614.98" y1="100.32" x2="610.4" y2="92" stroke="#1c1c1c" stroke-width="1.25" stroke-linecap="round"/>
<line x1="620.16" y1="98.66" x2="624.1" y2="92" stroke="#1c1c1c" stroke-width="1.25" stroke-linecap="round"/>
<line x1="620.51" y1="105.92" x2="628.5" y2="110.3" stroke="#1c1c1c" stroke-width="1.25" stroke-linecap="round"/>
<line x1="628.5" y1="110.3" x2="639.8" y2="104" stroke="#1c1c1c" stroke-width="1.25" stroke-linecap="round"/>
<line x1="639.8" y1="104" x2="651.5" y2="110.3" stroke="#1c1c1c" stroke-width="1.25" stroke-linecap="round"/>
<line x1="651.5" y1="110.3" x2="661" y2="105.2" stroke="#1c1c1c" stroke-width="1.25" stroke-linecap="round"/>
<text x="660.8" y="106.2" font-size="8.6" text-anchor="start" fill="#1f1f1f" style='font-family:"Liberation Serif", serif' >SO<tspan font-size="5.4" dy="1.6">3</tspan></text>
<circle cx="671.5" cy="94.6" r="1.9" fill="#2a2a2a" stroke="#111" stroke-width="0.5"/>
<line x1="670.5" y1="94.6" x2="672.5" y2="94.6" stroke="#bbb" stroke-width="0.6"/>
<line x1="524.9" y1="130.4" x2="525.19" y2="139.9" stroke="#1c1c1c" stroke-width="1.25" stroke-linecap="round"/>
<line x1="528.12" y1="141.79" x2="536.7" y2="137.2" stroke="#1c1c1c" stroke-width="1.25" stroke-linecap="round"/>
<line x1="536.7" y1="137.2" x2="548" y2="143.3" stroke="#1c1c1c" stroke-width="1.25" stroke-linecap="round"/>
<line x1="548" y1="143.3" x2="557.24" y2="138.64" stroke="#1c1c1c" stroke-width="1.25" stroke-linecap="round"/>
<line x1="562.9" y1="138.74" x2="571.2" y2="143.3" stroke="#1c1c1c" stroke-width="1.25" stroke-linecap="round"/>
<line x1="571.2" y1="143.3" x2="582.7" y2="137.2" stroke="#1c1c1c" stroke-width="1.25" stroke-linecap="round"/>
<line x1="582.7" y1="137.2" x2="591.09" y2="141.32" stroke="#1c1c1c" stroke-width="1.25" stroke-linecap="round"/>
<text x="525.3" y="145.89" font-size="7.2" text-anchor="middle" fill="#1f1f1f" style='stroke-width:0.3px' >O</text>
<text x="560.1" y="139.79" font-size="7.2" text-anchor="middle" fill="#1f1f1f" style='stroke-width:0.3px' >O</text>
<text x="594.5" y="145.77" font-size="7.7" text-anchor="middle" fill="#1f1f1f" style='font-family:"Liberation Serif", serif;stroke-width:0.3px' >N</text>
<text x="597.6" y="140" font-size="4.2" text-anchor="start" fill="#1f1f1f" >+</text>
<line x1="592.88" y1="147.31" x2="590" y2="155" stroke="#1c1c1c" stroke-width="1.25" stroke-linecap="round"/>
<line x1="596.74" y1="147.02" x2="601.2" y2="155" stroke="#1c1c1c" stroke-width="1.25" stroke-linecap="round"/>
<line x1="599.17" y1="140.71" x2="606.5" y2="137.1" stroke="#1c1c1c" stroke-width="1.25" stroke-linecap="round"/>
<line x1="606.5" y1="137.1" x2="618" y2="143.2" stroke="#1c1c1c" stroke-width="1.25" stroke-linecap="round"/>
<line x1="618" y1="143.2" x2="629.3" y2="137.1" stroke="#1c1c1c" stroke-width="1.25" stroke-linecap="round"/>
<line x1="629.3" y1="137.1" x2="638.6" y2="142" stroke="#1c1c1c" stroke-width="1.25" stroke-linecap="round"/>
<text x="638.6" y="144.6" font-size="8.6" text-anchor="start" fill="#1f1f1f" style='font-family:"Liberation Serif", serif' >SO<tspan font-size="5.4" dy="1.6">3</tspan></text>
<circle cx="653.4" cy="140.4" r="1.9" fill="#2a2a2a" stroke="#111" stroke-width="0.5"/>
<line x1="652.4" y1="140.4" x2="654.4" y2="140.4" stroke="#bbb" stroke-width="0.6"/>
<line x1="513.4" y1="124" x2="505.62" y2="128.18" stroke="#1c1c1c" stroke-width="1.25" stroke-linecap="round"/>
<line x1="499.98" y1="132.24" x2="495.15" y2="134.94" stroke="#1c1c1c" stroke-width="0.85" stroke-linecap="round"/>
<line x1="499.15" y1="130.76" x2="494.32" y2="133.46" stroke="#1c1c1c" stroke-width="0.85" stroke-linecap="round"/>
<line x1="488.59" y1="138.43" x2="482.58" y2="141.48" stroke="#1c1c1c" stroke-width="0.85" stroke-linecap="round"/>
<line x1="487.82" y1="136.92" x2="481.81" y2="139.97" stroke="#1c1c1c" stroke-width="0.85" stroke-linecap="round"/>
<text x="502.8" y="132" font-size="6.4" text-anchor="middle" fill="#1f1f1f" style='stroke-width:0.3px' >N</text>
<text x="491.5" y="138.3" font-size="6.4" text-anchor="middle" fill="#1f1f1f" style='stroke-width:0.3px' >N</text>
<text x="478.9" y="144.7" font-size="6.4" text-anchor="middle" fill="#1f1f1f" style='stroke-width:0.3px' >N</text>
<text x="493.6" y="133.6" font-size="3.8" text-anchor="start" fill="#1f1f1f" >+</text>
<text x="473.6" y="141.4" font-size="3.8" text-anchor="start" fill="#1f1f1f" >−</text>
<path d="M42.5 166.35 H239 V268.6" fill="none" stroke="#3e3e3e" stroke-width="1.05"/>
<path d="M42.5 165.95 V268.6 H239.4" fill="none" stroke="#585858" stroke-width="1.7"/>
<path d="M42.5 268 239.4 252.71" fill="none" stroke="#c9cbc9" stroke-width="1.0"/>
<ellipse cx="42.5" cy="268" rx="2.4" ry="1.9" fill="#c9cbc9"/>
<ellipse cx="50.7" cy="267.36" rx="2.4" ry="1.9" fill="#c9cbc9"/>
<ellipse cx="58.91" cy="266.73" rx="2.4" ry="1.9" fill="#c9cbc9"/>
<ellipse cx="67.11" cy="266.09" rx="2.4" ry="1.9" fill="#c9cbc9"/>
<ellipse cx="75.32" cy="265.45" rx="2.4" ry="1.9" fill="#c9cbc9"/>
<ellipse cx="83.52" cy="264.81" rx="2.4" ry="1.9" fill="#c9cbc9"/>
<ellipse cx="91.72" cy="264.18" rx="2.4" ry="1.9" fill="#c9cbc9"/>
<ellipse cx="99.93" cy="263.54" rx="2.4" ry="1.9" fill="#c9cbc9"/>
<ellipse cx="108.13" cy="262.9" rx="2.4" ry="1.9" fill="#c9cbc9"/>
<ellipse cx="116.34" cy="262.27" rx="2.4" ry="1.9" fill="#c9cbc9"/>
<ellipse cx="124.54" cy="261.63" rx="2.4" ry="1.9" fill="#c9cbc9"/>
<ellipse cx="132.75" cy="260" rx="2.4" ry="1.2" fill="#c9cbc9"/>
<ellipse cx="132.75" cy="261.99" rx="2.4" ry="1.2" fill="#c9cbc9"/>
<ellipse cx="132.75" cy="260.99" rx="2.4" ry="1.5" fill="#c9cbc9"/>
<ellipse cx="140.95" cy="259.27" rx="2.4" ry="1.2" fill="#c9cbc9"/>
<ellipse cx="140.95" cy="261.44" rx="2.4" ry="1.2" fill="#c9cbc9"/>
<ellipse cx="140.95" cy="260.36" rx="2.4" ry="1.5" fill="#c9cbc9"/>
<ellipse cx="149.15" cy="258.54" rx="2.4" ry="1.2" fill="#c9cbc9"/>
<ellipse cx="149.15" cy="260.9" rx="2.4" ry="1.2" fill="#c9cbc9"/>
<ellipse cx="149.15" cy="259.72" rx="2.4" ry="1.5" fill="#c9cbc9"/>
<ellipse cx="157.36" cy="257.81" rx="2.4" ry="1.2" fill="#c9cbc9"/>
<ellipse cx="157.36" cy="260.35" rx="2.4" ry="1.2" fill="#c9cbc9"/>
<ellipse cx="157.36" cy="259.08" rx="2.4" ry="1.5" fill="#c9cbc9"/>
<ellipse cx="165.56" cy="257.08" rx="2.4" ry="1.2" fill="#c9cbc9"/>
<ellipse cx="165.56" cy="259.81" rx="2.4" ry="1.2" fill="#c9cbc9"/>
<ellipse cx="165.56" cy="258.44" rx="2.4" ry="1.5" fill="#c9cbc9"/>
<ellipse cx="173.77" cy="256.35" rx="2.4" ry="1.2" fill="#c9cbc9"/>
<ellipse cx="173.77" cy="259.27" rx="2.4" ry="1.2" fill="#c9cbc9"/>
<ellipse cx="173.77" cy="257.81" rx="2.4" ry="1.5" fill="#c9cbc9"/>
<ellipse cx="181.97" cy="255.62" rx="2.4" ry="1.2" fill="#c9cbc9"/>
<ellipse cx="181.97" cy="258.72" rx="2.4" ry="1.2" fill="#c9cbc9"/>
<ellipse cx="181.97" cy="257.17" rx="2.4" ry="1.5" fill="#c9cbc9"/>
<ellipse cx="190.18" cy="254.89" rx="2.4" ry="1.2" fill="#c9cbc9"/>
<ellipse cx="190.18" cy="258.18" rx="2.4" ry="1.2" fill="#c9cbc9"/>
<ellipse cx="190.18" cy="256.53" rx="2.4" ry="1.5" fill="#c9cbc9"/>
<ellipse cx="198.38" cy="254.16" rx="2.4" ry="1.2" fill="#c9cbc9"/>
<ellipse cx="198.38" cy="257.63" rx="2.4" ry="1.2" fill="#c9cbc9"/>
<ellipse cx="198.38" cy="255.9" rx="2.4" ry="1.5" fill="#c9cbc9"/>
<ellipse cx="206.58" cy="253.43" rx="2.4" ry="1.2" fill="#c9cbc9"/>
<ellipse cx="206.58" cy="257.09" rx="2.4" ry="1.2" fill="#c9cbc9"/>
<ellipse cx="206.58" cy="255.26" rx="2.4" ry="1.5" fill="#c9cbc9"/>
<ellipse cx="214.79" cy="252.7" rx="2.4" ry="1.2" fill="#c9cbc9"/>
<ellipse cx="214.79" cy="256.54" rx="2.4" ry="1.2" fill="#c9cbc9"/>
<ellipse cx="214.79" cy="254.62" rx="2.4" ry="1.5" fill="#c9cbc9"/>
<ellipse cx="222.99" cy="251.97" rx="2.4" ry="1.2" fill="#c9cbc9"/>
<ellipse cx="222.99" cy="256" rx="2.4" ry="1.2" fill="#c9cbc9"/>
<ellipse cx="222.99" cy="253.99" rx="2.4" ry="1.5" fill="#c9cbc9"/>
<ellipse cx="231.2" cy="251.24" rx="2.4" ry="1.2" fill="#c9cbc9"/>
<ellipse cx="231.2" cy="255.46" rx="2.4" ry="1.2" fill="#c9cbc9"/>
<ellipse cx="231.2" cy="253.35" rx="2.4" ry="1.5" fill="#c9cbc9"/>
<ellipse cx="239.4" cy="250.51" rx="2.4" ry="1.2" fill="#c9cbc9"/>
<ellipse cx="239.4" cy="254.91" rx="2.4" ry="1.2" fill="#c9cbc9"/>
<ellipse cx="239.4" cy="252.71" rx="2.4" ry="1.5" fill="#c9cbc9"/>
<path d="M42.5 268.6 44.96 265.03 47.42 261.64 49.88 258.41 52.34 255.33 54.81 252.4 57.27 249.62 59.73 246.97 62.19 244.44 64.65 242.04 67.11 239.76 69.57 237.58 72.03 235.51 74.5 233.54 76.96 231.67 79.42 229.88 81.88 228.19 84.34 226.57 86.8 225.03 89.26 223.57 91.72 222.17 94.19 220.85 96.65 219.59 99.11 218.39 101.57 217.24 104.03 216.16 106.49 215.12 108.95 214.14 111.42 213.2 113.88 212.31 116.34 211.46 118.8 210.65 121.26 209.88 123.72 209.15 126.18 208.45 128.64 207.79 131.11 207.16 133.57 206.56 136.03 205.99 138.49 205.44 140.95 204.92 143.41 204.43 145.87 203.96 148.33 203.52 150.8 203.09 153.26 202.69 155.72 202.3 158.18 201.94 160.64 201.59 163.1 201.26 165.56 200.94 168.02 200.64 170.49 200.36 172.95 200.08 175.41 199.83 177.87 199.58 180.33 199.34 182.79 199.12 185.25 198.91 187.71 198.71 190.18 198.51 192.64 198.33 195.1 198.16 197.56 197.99 200.02 197.83 202.48 197.68 204.94 197.54 207.4 197.4 209.87 197.28 212.33 197.15 214.79 197.03 217.25 196.92 219.71 196.82 222.17 196.72 224.63 196.62 227.09 196.53 229.56 196.44 232.02 196.36 234.48 196.28 236.94 196.2 239.4 196.13" fill="none" stroke="#e8213a" stroke-width="0.9"/>
<ellipse cx="42.5" cy="266.3" rx="2.4" ry="1.9" fill="#e8213a"/>
<ellipse cx="50.7" cy="255.4" rx="2.4" ry="1.9" fill="#e8213a"/>
<ellipse cx="58.91" cy="246.3" rx="2.4" ry="1.9" fill="#e8213a"/>
<ellipse cx="67.11" cy="237.4" rx="2.4" ry="1.2" fill="#e8213a"/>
<ellipse cx="67.11" cy="239.8" rx="2.4" ry="1.2" fill="#e8213a"/>
<ellipse cx="67.11" cy="238.6" rx="2.4" ry="1.6" fill="#e8213a"/>
<ellipse cx="75.32" cy="230.6" rx="2.4" ry="1.2" fill="#e8213a"/>
<ellipse cx="75.32" cy="233.6" rx="2.4" ry="1.2" fill="#e8213a"/>
<ellipse cx="75.32" cy="232.1" rx="2.4" ry="1.6" fill="#e8213a"/>
<ellipse cx="83.52" cy="225.5" rx="2.4" ry="1.2" fill="#e8213a"/>
<ellipse cx="83.52" cy="228.7" rx="2.4" ry="1.2" fill="#e8213a"/>
<ellipse cx="83.52" cy="227.1" rx="2.4" ry="1.6" fill="#e8213a"/>
<ellipse cx="91.72" cy="219.6" rx="2.4" ry="1.2" fill="#e8213a"/>
<ellipse cx="91.72" cy="223" rx="2.4" ry="1.2" fill="#e8213a"/>
<ellipse cx="91.72" cy="221.3" rx="2.4" ry="1.6" fill="#e8213a"/>
<ellipse cx="99.93" cy="215.7" rx="2.4" ry="1.2" fill="#e8213a"/>
<ellipse cx="99.93" cy="219.3" rx="2.4" ry="1.2" fill="#e8213a"/>
<ellipse cx="99.93" cy="217.5" rx="2.4" ry="1.6" fill="#e8213a"/>
<ellipse cx="108.13" cy="211.9" rx="2.4" ry="1.2" fill="#e8213a"/>
<ellipse cx="108.13" cy="215.7" rx="2.4" ry="1.2" fill="#e8213a"/>
<ellipse cx="108.13" cy="213.8" rx="2.4" ry="1.6" fill="#e8213a"/>
<ellipse cx="116.34" cy="209.6" rx="2.4" ry="1.2" fill="#e8213a"/>
<ellipse cx="116.34" cy="213.4" rx="2.4" ry="1.2" fill="#e8213a"/>
<ellipse cx="116.34" cy="211.5" rx="2.4" ry="1.6" fill="#e8213a"/>
<ellipse cx="124.54" cy="207.5" rx="2.4" ry="1.2" fill="#e8213a"/>
<ellipse cx="124.54" cy="211.5" rx="2.4" ry="1.2" fill="#e8213a"/>
<ellipse cx="124.54" cy="209.5" rx="2.4" ry="1.6" fill="#e8213a"/>
<ellipse cx="132.75" cy="205.1" rx="2.4" ry="1.2" fill="#e8213a"/>
<ellipse cx="132.75" cy="209.3" rx="2.4" ry="1.2" fill="#e8213a"/>
<ellipse cx="132.75" cy="207.2" rx="2.4" ry="1.6" fill="#e8213a"/>
<ellipse cx="140.95" cy="203.6" rx="2.4" ry="1.2" fill="#e8213a"/>
<ellipse cx="140.95" cy="207.8" rx="2.4" ry="1.2" fill="#e8213a"/>
<ellipse cx="140.95" cy="205.7" rx="2.4" ry="1.6" fill="#e8213a"/>
<ellipse cx="149.15" cy="202.3" rx="2.4" ry="1.2" fill="#e8213a"/>
<ellipse cx="149.15" cy="206.7" rx="2.4" ry="1.2" fill="#e8213a"/>
<ellipse cx="149.15" cy="204.5" rx="2.4" ry="1.6" fill="#e8213a"/>
<ellipse cx="157.36" cy="201.1" rx="2.4" ry="1.2" fill="#e8213a"/>
<ellipse cx="157.36" cy="205.5" rx="2.4" ry="1.2" fill="#e8213a"/>
<ellipse cx="157.36" cy="203.3" rx="2.4" ry="1.6" fill="#e8213a"/>
<ellipse cx="165.56" cy="199.1" rx="2.4" ry="1.2" fill="#e8213a"/>
<ellipse cx="165.56" cy="203.9" rx="2.4" ry="1.2" fill="#e8213a"/>
<ellipse cx="165.56" cy="201.5" rx="2.4" ry="1.6" fill="#e8213a"/>
<ellipse cx="173.77" cy="198" rx="2.4" ry="1.2" fill="#e8213a"/>
<ellipse cx="173.77" cy="202.8" rx="2.4" ry="1.2" fill="#e8213a"/>
<ellipse cx="173.77" cy="200.4" rx="2.4" ry="1.6" fill="#e8213a"/>
<ellipse cx="181.97" cy="197" rx="2.4" ry="1.2" fill="#e8213a"/>
<ellipse cx="181.97" cy="201.8" rx="2.4" ry="1.2" fill="#e8213a"/>
<ellipse cx="181.97" cy="199.4" rx="2.4" ry="1.6" fill="#e8213a"/>
<ellipse cx="190.18" cy="195.4" rx="2.4" ry="1.2" fill="#e8213a"/>
<ellipse cx="190.18" cy="200.6" rx="2.4" ry="1.2" fill="#e8213a"/>
<ellipse cx="190.18" cy="198" rx="2.4" ry="1.6" fill="#e8213a"/>
<ellipse cx="198.38" cy="194.5" rx="2.4" ry="1.2" fill="#e8213a"/>
<ellipse cx="198.38" cy="199.1" rx="2.4" ry="1.2" fill="#e8213a"/>
<ellipse cx="198.38" cy="196.8" rx="2.4" ry="1.6" fill="#e8213a"/>
<ellipse cx="206.58" cy="194" rx="2.4" ry="1.2" fill="#e8213a"/>
<ellipse cx="206.58" cy="199.2" rx="2.4" ry="1.2" fill="#e8213a"/>
<ellipse cx="206.58" cy="196.6" rx="2.4" ry="1.6" fill="#e8213a"/>
<ellipse cx="214.79" cy="194.1" rx="2.4" ry="1.2" fill="#e8213a"/>
<ellipse cx="214.79" cy="199.5" rx="2.4" ry="1.2" fill="#e8213a"/>
<ellipse cx="214.79" cy="196.8" rx="2.4" ry="1.6" fill="#e8213a"/>
<ellipse cx="222.99" cy="192.8" rx="2.4" ry="1.2" fill="#e8213a"/>
<ellipse cx="222.99" cy="197.8" rx="2.4" ry="1.2" fill="#e8213a"/>
<ellipse cx="222.99" cy="195.3" rx="2.4" ry="1.6" fill="#e8213a"/>
<ellipse cx="231.2" cy="192.2" rx="2.4" ry="1.2" fill="#e8213a"/>
<ellipse cx="231.2" cy="196.6" rx="2.4" ry="1.2" fill="#e8213a"/>
<ellipse cx="231.2" cy="194.4" rx="2.4" ry="1.6" fill="#e8213a"/>
<ellipse cx="239.4" cy="191.6" rx="2.4" ry="1.2" fill="#e8213a"/>
<ellipse cx="239.4" cy="195.6" rx="2.4" ry="1.2" fill="#e8213a"/>
<ellipse cx="239.4" cy="193.6" rx="2.4" ry="1.6" fill="#e8213a"/>
<path d="M42.5 268.6 44.96 262.34 47.42 256.52 49.88 251.1 52.34 246.05 54.81 241.36 57.27 236.99 59.73 232.93 62.19 229.15 64.65 225.63 67.11 222.35 69.57 219.31 72.03 216.47 74.5 213.83 76.96 211.38 79.42 209.09 81.88 206.97 84.34 204.99 86.8 203.15 89.26 201.44 91.72 199.84 94.19 198.36 96.65 196.98 99.11 195.69 101.57 194.5 104.03 193.39 106.49 192.35 108.95 191.39 111.42 190.49 113.88 189.66 116.34 188.88 118.8 188.16 121.26 187.49 123.72 186.87 126.18 186.28 128.64 185.74 131.11 185.24 133.57 184.77 136.03 184.33 138.49 183.93 140.95 183.55 143.41 183.2 145.87 182.87 148.33 182.57 150.8 182.28 153.26 182.02 155.72 181.78 158.18 181.55 160.64 181.34 163.1 181.14 165.56 180.95 168.02 180.78 170.49 180.62 172.95 180.48 175.41 180.34 177.87 180.21 180.33 180.09 182.79 179.98 185.25 179.88 187.71 179.78 190.18 179.69 192.64 179.61 195.1 179.53 197.56 179.46 200.02 179.39 202.48 179.33 204.94 179.27 207.4 179.22 209.87 179.17 212.33 179.12 214.79 179.08 217.25 179.03 219.71 179 222.17 178.96 224.63 178.93 227.09 178.9 229.56 178.87 232.02 178.84 234.48 178.82 236.94 178.8 239.4 178.78" fill="none" stroke="#3c5fae" stroke-width="0.9"/>
<ellipse cx="42.5" cy="257" rx="2.4" ry="1.9" fill="#3c5fae"/>
<ellipse cx="50.7" cy="241.5" rx="2.4" ry="1.9" fill="#3c5fae"/>
<ellipse cx="58.91" cy="229.6" rx="2.4" ry="1.9" fill="#3c5fae"/>
<ellipse cx="67.11" cy="218.8" rx="2.4" ry="1.9" fill="#3c5fae"/>
<ellipse cx="75.32" cy="211.2" rx="2.4" ry="1.9" fill="#3c5fae"/>
<ellipse cx="83.52" cy="203.9" rx="2.4" ry="1.2" fill="#3c5fae"/>
<ellipse cx="83.52" cy="205.9" rx="2.4" ry="1.2" fill="#3c5fae"/>
<ellipse cx="83.52" cy="204.9" rx="2.4" ry="1.6" fill="#3c5fae"/>
<ellipse cx="91.72" cy="197.9" rx="2.4" ry="1.2" fill="#3c5fae"/>
<ellipse cx="91.72" cy="200.5" rx="2.4" ry="1.2" fill="#3c5fae"/>
<ellipse cx="91.72" cy="199.2" rx="2.4" ry="1.6" fill="#3c5fae"/>
<ellipse cx="99.93" cy="193.6" rx="2.4" ry="1.2" fill="#3c5fae"/>
<ellipse cx="99.93" cy="196" rx="2.4" ry="1.2" fill="#3c5fae"/>
<ellipse cx="99.93" cy="194.8" rx="2.4" ry="1.6" fill="#3c5fae"/>
<ellipse cx="108.13" cy="190.1" rx="2.4" ry="1.2" fill="#3c5fae"/>
<ellipse cx="108.13" cy="193.5" rx="2.4" ry="1.2" fill="#3c5fae"/>
<ellipse cx="108.13" cy="191.8" rx="2.4" ry="1.6" fill="#3c5fae"/>
<ellipse cx="116.34" cy="187.6" rx="2.4" ry="1.2" fill="#3c5fae"/>
<ellipse cx="116.34" cy="191.2" rx="2.4" ry="1.2" fill="#3c5fae"/>
<ellipse cx="116.34" cy="189.4" rx="2.4" ry="1.6" fill="#3c5fae"/>
<ellipse cx="124.54" cy="186.5" rx="2.4" ry="1.2" fill="#3c5fae"/>
<ellipse cx="124.54" cy="189.3" rx="2.4" ry="1.2" fill="#3c5fae"/>
<ellipse cx="124.54" cy="187.9" rx="2.4" ry="1.6" fill="#3c5fae"/>
<ellipse cx="132.75" cy="184.5" rx="2.4" ry="1.2" fill="#3c5fae"/>
<ellipse cx="132.75" cy="188.3" rx="2.4" ry="1.2" fill="#3c5fae"/>
<ellipse cx="132.75" cy="186.4" rx="2.4" ry="1.6" fill="#3c5fae"/>
<ellipse cx="140.95" cy="182.8" rx="2.4" ry="1.2" fill="#3c5fae"/>
<ellipse cx="140.95" cy="185.8" rx="2.4" ry="1.2" fill="#3c5fae"/>
<ellipse cx="140.95" cy="184.3" rx="2.4" ry="1.6" fill="#3c5fae"/>
<ellipse cx="149.15" cy="181.3" rx="2.4" ry="1.2" fill="#3c5fae"/>
<ellipse cx="149.15" cy="184.5" rx="2.4" ry="1.2" fill="#3c5fae"/>
<ellipse cx="149.15" cy="182.9" rx="2.4" ry="1.6" fill="#3c5fae"/>
<ellipse cx="157.36" cy="180.2" rx="2.4" ry="1.2" fill="#3c5fae"/>
<ellipse cx="157.36" cy="183.2" rx="2.4" ry="1.2" fill="#3c5fae"/>
<ellipse cx="157.36" cy="181.7" rx="2.4" ry="1.6" fill="#3c5fae"/>
<ellipse cx="165.56" cy="179.1" rx="2.4" ry="1.2" fill="#3c5fae"/>
<ellipse cx="165.56" cy="182.5" rx="2.4" ry="1.2" fill="#3c5fae"/>
<ellipse cx="165.56" cy="180.8" rx="2.4" ry="1.6" fill="#3c5fae"/>
<ellipse cx="173.77" cy="178.8" rx="2.4" ry="1.2" fill="#3c5fae"/>
<ellipse cx="173.77" cy="181.6" rx="2.4" ry="1.2" fill="#3c5fae"/>
<ellipse cx="173.77" cy="180.2" rx="2.4" ry="1.6" fill="#3c5fae"/>
<ellipse cx="181.97" cy="178.2" rx="2.4" ry="1.2" fill="#3c5fae"/>
<ellipse cx="181.97" cy="181.6" rx="2.4" ry="1.2" fill="#3c5fae"/>
<ellipse cx="181.97" cy="179.9" rx="2.4" ry="1.6" fill="#3c5fae"/>
<ellipse cx="190.18" cy="176.8" rx="2.4" ry="1.2" fill="#3c5fae"/>
<ellipse cx="190.18" cy="180" rx="2.4" ry="1.2" fill="#3c5fae"/>
<ellipse cx="190.18" cy="178.4" rx="2.4" ry="1.6" fill="#3c5fae"/>
<ellipse cx="198.38" cy="176.5" rx="2.4" ry="1.2" fill="#3c5fae"/>
<ellipse cx="198.38" cy="180.7" rx="2.4" ry="1.2" fill="#3c5fae"/>
<ellipse cx="198.38" cy="178.6" rx="2.4" ry="1.6" fill="#3c5fae"/>
<ellipse cx="206.58" cy="176.9" rx="2.4" ry="1.2" fill="#3c5fae"/>
<ellipse cx="206.58" cy="181.1" rx="2.4" ry="1.2" fill="#3c5fae"/>
<ellipse cx="206.58" cy="179" rx="2.4" ry="1.6" fill="#3c5fae"/>
<ellipse cx="214.79" cy="176.5" rx="2.4" ry="1.2" fill="#3c5fae"/>
<ellipse cx="214.79" cy="179.9" rx="2.4" ry="1.2" fill="#3c5fae"/>
<ellipse cx="214.79" cy="178.2" rx="2.4" ry="1.6" fill="#3c5fae"/>
<ellipse cx="222.99" cy="176.7" rx="2.4" ry="1.2" fill="#3c5fae"/>
<ellipse cx="222.99" cy="180.5" rx="2.4" ry="1.2" fill="#3c5fae"/>
<ellipse cx="222.99" cy="178.6" rx="2.4" ry="1.6" fill="#3c5fae"/>
<ellipse cx="231.2" cy="177.1" rx="2.4" ry="1.2" fill="#3c5fae"/>
<ellipse cx="231.2" cy="179.3" rx="2.4" ry="1.2" fill="#3c5fae"/>
<ellipse cx="231.2" cy="178.2" rx="2.4" ry="1.6" fill="#3c5fae"/>
<ellipse cx="239.4" cy="177" rx="2.4" ry="1.2" fill="#3c5fae"/>
<ellipse cx="239.4" cy="179.8" rx="2.4" ry="1.2" fill="#3c5fae"/>
<ellipse cx="239.4" cy="178.4" rx="2.4" ry="1.6" fill="#3c5fae"/>
<line x1="41.7" y1="243.04" x2="47.8" y2="243.04" stroke="#585858" stroke-width="1.1" />
<line x1="41.7" y1="217.48" x2="47.8" y2="217.48" stroke="#585858" stroke-width="1.1" />
<line x1="41.7" y1="191.91" x2="47.8" y2="191.91" stroke="#585858" stroke-width="1.1" />
<line x1="41.7" y1="166.35" x2="47.8" y2="166.35" stroke="#585858" stroke-width="1.1" />
<text transform="translate(41.2 269.8) scale(0.9709 1)" font-size="9.58" text-anchor="end" fill="#1f1f1f" >0</text>
<text transform="translate(42.3 245.44) scale(0.9709 1)" font-size="9.58" text-anchor="end" fill="#1f1f1f" >200</text>
<text transform="translate(42.3 219.88) scale(0.9709 1)" font-size="9.58" text-anchor="end" fill="#1f1f1f" >400</text>
<text transform="translate(42.3 194.31) scale(0.9709 1)" font-size="9.58" text-anchor="end" fill="#1f1f1f" >600</text>
<text transform="translate(42.3 168.25) scale(0.9709 1)" font-size="9.58" text-anchor="end" fill="#1f1f1f" >800</text>
<line x1="83.52" y1="268.6" x2="83.52" y2="265.4" stroke="#585858" stroke-width="1.0" />
<line x1="124.54" y1="268.6" x2="124.54" y2="265.4" stroke="#585858" stroke-width="1.0" />
<line x1="165.56" y1="268.6" x2="165.56" y2="265.4" stroke="#585858" stroke-width="1.0" />
<line x1="206.58" y1="268.6" x2="206.58" y2="265.4" stroke="#585858" stroke-width="1.0" />
<text transform="translate(42.8 280.4) scale(0.9709 1)" font-size="9.58" text-anchor="middle" fill="#1f1f1f" >0</text>
<text transform="translate(84.62 280.4) scale(0.9709 1)" font-size="9.58" text-anchor="middle" fill="#1f1f1f" >50</text>
<text transform="translate(125.64 280.4) scale(0.9709 1)" font-size="9.58" text-anchor="middle" fill="#1f1f1f" >100</text>
<text transform="translate(166.66 280.4) scale(0.9709 1)" font-size="9.58" text-anchor="middle" fill="#1f1f1f" >150</text>
<text transform="translate(207.68 280.4) scale(0.9709 1)" font-size="9.58" text-anchor="middle" fill="#1f1f1f" >200</text>
<text transform="translate(9.1 217.7) rotate(-90) scale(0.9709 1)" font-size="9.68" text-anchor="middle" fill="#1f1f1f">Intensity (RFUs)</text>
<text transform="translate(20.5 218.55) rotate(-90) scale(0.9709 1)" font-size="9.66" text-anchor="middle" fill="#1f1f1f">3-Azido-7-hydroxycoumarin</text>
<ellipse cx="134.8" cy="226.7" rx="2.6" ry="1.5" fill="#c9cbc9"/>
<text transform="translate(145.6 228.9) scale(0.9709 1)" font-size="9.79" text-anchor="start" fill="#1f1f1f" >BTT-DNA (100 nM)</text>
<ellipse cx="134.8" cy="234.5" rx="2.6" ry="1.5" fill="#e8213a"/>
<text transform="translate(145.6 237) scale(0.9709 1)" font-size="9.79" text-anchor="start" fill="#1f1f1f" >BTT-DNA (500 nM)</text>
<ellipse cx="134.8" cy="243.5" rx="2.6" ry="1.5" fill="#3c5fae"/>
<text transform="translate(145.6 245.6) scale(0.9709 1)" font-size="9.79" text-anchor="start" fill="#1f1f1f" >BTT-DNA (1000 nM)</text>
<path d="M251 165.45 H447.5 V268.4" fill="none" stroke="#3e3e3e" stroke-width="1.05"/>
<path d="M251 165.05 V268.4 H447.9" fill="none" stroke="#222" stroke-width="1.1"/>
<path d="M251 268.4 253.46 268.14 255.91 267.88 258.37 267.62 260.82 267.37 263.28 267.13 265.74 266.89 268.19 266.65 270.65 266.42 273.11 266.19 275.56 265.97 278.02 265.75 280.48 265.53 282.93 265.32 285.39 265.11 287.84 264.9 290.3 264.7 292.76 264.5 295.21 264.31 297.67 264.12 300.12 263.93 302.58 263.75 305.04 263.57 307.49 263.39 309.95 263.22 312.41 263.05 314.86 262.88 317.32 262.71 319.77 262.55 322.23 262.39 324.69 262.23 327.14 262.08 329.6 261.93 332.06 261.78 334.51 261.64 336.97 261.49 339.43 261.35 341.88 261.21 344.34 261.08 346.79 260.95 349.25 260.82 351.71 260.69 354.16 260.56 356.62 260.44 359.07 260.32 361.53 260.2 363.99 260.08 366.44 259.96 368.9 259.85 371.36 259.74 373.81 259.63 376.27 259.52 378.73 259.42 381.18 259.31 383.64 259.21 386.09 259.11 388.55 259.02 391.01 258.92 393.46 258.82 395.92 258.73 398.38 258.64 400.83 258.55 403.29 258.46 405.74 258.38 408.2 258.29 410.66 258.21 413.11 258.13 415.57 258.05 418.02 257.97 420.48 257.89 422.94 257.81 425.39 257.74 427.85 257.67 430.31 257.59 432.76 257.52 435.22 257.45 437.67 257.39 440.13 257.32 442.59 257.25 445.04 257.19 447.5 257.12" fill="none" stroke="#c9cbc9" stroke-width="0.9"/>
<ellipse cx="251" cy="267.8" rx="2.4" ry="1.9" fill="#c9cbc9"/>
<ellipse cx="259.19" cy="266.94" rx="2.4" ry="1.9" fill="#c9cbc9"/>
<ellipse cx="267.38" cy="266.13" rx="2.4" ry="1.9" fill="#c9cbc9"/>
<ellipse cx="275.56" cy="265.37" rx="2.4" ry="1.9" fill="#c9cbc9"/>
<ellipse cx="283.75" cy="264.65" rx="2.4" ry="1.9" fill="#c9cbc9"/>
<ellipse cx="291.94" cy="263.97" rx="2.4" ry="1.9" fill="#c9cbc9"/>
<ellipse cx="300.12" cy="263.33" rx="2.4" ry="1.9" fill="#c9cbc9"/>
<ellipse cx="308.31" cy="263.63" rx="2.4" ry="1.9" fill="#c9cbc9"/>
<ellipse cx="316.5" cy="263.07" rx="2.4" ry="1.9" fill="#c9cbc9"/>
<ellipse cx="324.69" cy="262.53" rx="2.4" ry="1.9" fill="#c9cbc9"/>
<ellipse cx="332.88" cy="262.03" rx="2.4" ry="1.9" fill="#c9cbc9"/>
<ellipse cx="341.06" cy="261.56" rx="2.4" ry="1.9" fill="#c9cbc9"/>
<ellipse cx="349.25" cy="261.12" rx="2.4" ry="1.9" fill="#c9cbc9"/>
<ellipse cx="357.44" cy="260.7" rx="2.4" ry="1.9" fill="#c9cbc9"/>
<ellipse cx="365.62" cy="260.3" rx="2.4" ry="1.9" fill="#c9cbc9"/>
<ellipse cx="373.81" cy="259.93" rx="2.4" ry="1.9" fill="#c9cbc9"/>
<ellipse cx="382" cy="259.58" rx="2.4" ry="1.9" fill="#c9cbc9"/>
<ellipse cx="390.19" cy="259.25" rx="2.4" ry="1.9" fill="#c9cbc9"/>
<ellipse cx="398.38" cy="258.94" rx="2.4" ry="1.9" fill="#c9cbc9"/>
<ellipse cx="406.56" cy="258.65" rx="2.4" ry="1.9" fill="#c9cbc9"/>
<ellipse cx="414.75" cy="258.37" rx="2.4" ry="1.9" fill="#c9cbc9"/>
<ellipse cx="422.94" cy="258.11" rx="2.4" ry="1.9" fill="#c9cbc9"/>
<ellipse cx="431.12" cy="257.87" rx="2.4" ry="1.9" fill="#c9cbc9"/>
<ellipse cx="439.31" cy="257.64" rx="2.4" ry="1.9" fill="#c9cbc9"/>
<ellipse cx="447.5" cy="257.42" rx="2.4" ry="1.9" fill="#c9cbc9"/>
<path d="M251 268.4 253.46 267.45 255.91 266.53 258.37 265.64 260.82 264.77 263.28 263.93 265.74 263.12 268.19 262.33 270.65 261.56 273.11 260.82 275.56 260.1 278.02 259.4 280.48 258.73 282.93 258.07 285.39 257.43 287.84 256.82 290.3 256.22 292.76 255.64 295.21 255.08 297.67 254.53 300.12 254.01 302.58 253.49 305.04 253 307.49 252.52 309.95 252.05 312.41 251.6 314.86 251.16 317.32 250.73 319.77 250.32 322.23 249.92 324.69 249.53 327.14 249.16 329.6 248.79 332.06 248.44 334.51 248.09 336.97 247.76 339.43 247.44 341.88 247.13 344.34 246.83 346.79 246.53 349.25 246.25 351.71 245.97 354.16 245.7 356.62 245.44 359.07 245.19 361.53 244.95 363.99 244.71 366.44 244.48 368.9 244.26 371.36 244.04 373.81 243.84 376.27 243.63 378.73 243.44 381.18 243.25 383.64 243.06 386.09 242.88 388.55 242.71 391.01 242.54 393.46 242.38 395.92 242.22 398.38 242.06 400.83 241.92 403.29 241.77 405.74 241.63 408.2 241.5 410.66 241.36 413.11 241.24 415.57 241.11 418.02 240.99 420.48 240.88 422.94 240.76 425.39 240.66 427.85 240.55 430.31 240.45 432.76 240.35 435.22 240.25 437.67 240.16 440.13 240.07 442.59 239.98 445.04 239.89 447.5 239.81" fill="none" stroke="#3c5fae" stroke-width="0.9"/>
<ellipse cx="251" cy="264.7" rx="2.3" ry="1.9" fill="#3c5fae"/>
<ellipse cx="259.19" cy="261.8" rx="2.4" ry="1.2" fill="#3c5fae"/>
<ellipse cx="259.19" cy="263.6" rx="2.4" ry="1.2" fill="#3c5fae"/>
<ellipse cx="259.19" cy="262.7" rx="2.3" ry="1.5" fill="#3c5fae"/>
<ellipse cx="267.38" cy="258.4" rx="2.4" ry="1.2" fill="#3c5fae"/>
<ellipse cx="267.38" cy="261.6" rx="2.4" ry="1.2" fill="#3c5fae"/>
<ellipse cx="267.38" cy="260" rx="2.3" ry="1.5" fill="#3c5fae"/>
<ellipse cx="275.56" cy="256" rx="2.4" ry="1.2" fill="#3c5fae"/>
<ellipse cx="275.56" cy="259.6" rx="2.4" ry="1.2" fill="#3c5fae"/>
<ellipse cx="275.56" cy="257.8" rx="2.3" ry="1.5" fill="#3c5fae"/>
<ellipse cx="283.75" cy="254.2" rx="2.4" ry="1.2" fill="#3c5fae"/>
<ellipse cx="283.75" cy="258" rx="2.4" ry="1.2" fill="#3c5fae"/>
<ellipse cx="283.75" cy="256.1" rx="2.3" ry="1.5" fill="#3c5fae"/>
<ellipse cx="291.94" cy="252.2" rx="2.4" ry="1.2" fill="#3c5fae"/>
<ellipse cx="291.94" cy="256.2" rx="2.4" ry="1.2" fill="#3c5fae"/>
<ellipse cx="291.94" cy="254.2" rx="2.3" ry="1.5" fill="#3c5fae"/>
<ellipse cx="300.12" cy="250.5" rx="2.4" ry="1.2" fill="#3c5fae"/>
<ellipse cx="300.12" cy="254.9" rx="2.4" ry="1.2" fill="#3c5fae"/>
<ellipse cx="300.12" cy="252.7" rx="2.3" ry="1.5" fill="#3c5fae"/>
<ellipse cx="308.31" cy="249.3" rx="2.4" ry="1.2" fill="#3c5fae"/>
<ellipse cx="308.31" cy="254.1" rx="2.4" ry="1.2" fill="#3c5fae"/>
<ellipse cx="308.31" cy="251.7" rx="2.3" ry="1.5" fill="#3c5fae"/>
<ellipse cx="316.5" cy="247.9" rx="2.4" ry="1.2" fill="#3c5fae"/>
<ellipse cx="316.5" cy="253.1" rx="2.4" ry="1.2" fill="#3c5fae"/>
<ellipse cx="316.5" cy="250.5" rx="2.3" ry="1.5" fill="#3c5fae"/>
<ellipse cx="324.69" cy="246.6" rx="2.4" ry="1.2" fill="#3c5fae"/>
<ellipse cx="324.69" cy="252.2" rx="2.4" ry="1.2" fill="#3c5fae"/>
<ellipse cx="324.69" cy="249.4" rx="2.3" ry="1.5" fill="#3c5fae"/>
<ellipse cx="332.88" cy="245.5" rx="2.4" ry="1.2" fill="#3c5fae"/>
<ellipse cx="332.88" cy="251.3" rx="2.4" ry="1.2" fill="#3c5fae"/>
<ellipse cx="332.88" cy="248.4" rx="2.3" ry="1.5" fill="#3c5fae"/>
<ellipse cx="341.06" cy="244.4" rx="2.4" ry="1.2" fill="#3c5fae"/>
<ellipse cx="341.06" cy="250.8" rx="2.4" ry="1.2" fill="#3c5fae"/>
<ellipse cx="341.06" cy="247.6" rx="2.3" ry="1.5" fill="#3c5fae"/>
<ellipse cx="349.25" cy="243.1" rx="2.4" ry="1.2" fill="#3c5fae"/>
<ellipse cx="349.25" cy="249.7" rx="2.4" ry="1.2" fill="#3c5fae"/>
<ellipse cx="349.25" cy="246.4" rx="2.3" ry="1.5" fill="#3c5fae"/>
<ellipse cx="357.44" cy="242.1" rx="2.4" ry="1.2" fill="#3c5fae"/>
<ellipse cx="357.44" cy="248.7" rx="2.4" ry="1.2" fill="#3c5fae"/>
<ellipse cx="357.44" cy="245.4" rx="2.3" ry="1.5" fill="#3c5fae"/>
<ellipse cx="365.62" cy="241.4" rx="2.4" ry="1.2" fill="#3c5fae"/>
<ellipse cx="365.62" cy="248" rx="2.4" ry="1.2" fill="#3c5fae"/>
<ellipse cx="365.62" cy="244.7" rx="2.3" ry="1.5" fill="#3c5fae"/>
<ellipse cx="373.81" cy="239.9" rx="2.4" ry="1.2" fill="#3c5fae"/>
<ellipse cx="373.81" cy="247.1" rx="2.4" ry="1.2" fill="#3c5fae"/>
<ellipse cx="373.81" cy="243.5" rx="2.3" ry="1.5" fill="#3c5fae"/>
<ellipse cx="382" cy="239.6" rx="2.4" ry="1.2" fill="#3c5fae"/>
<ellipse cx="382" cy="246.8" rx="2.4" ry="1.2" fill="#3c5fae"/>
<ellipse cx="382" cy="243.2" rx="2.3" ry="1.5" fill="#3c5fae"/>
<ellipse cx="390.19" cy="238.6" rx="2.4" ry="1.2" fill="#3c5fae"/>
<ellipse cx="390.19" cy="245.8" rx="2.4" ry="1.2" fill="#3c5fae"/>
<ellipse cx="390.19" cy="242.2" rx="2.3" ry="1.5" fill="#3c5fae"/>
<ellipse cx="398.38" cy="237.9" rx="2.4" ry="1.2" fill="#3c5fae"/>
<ellipse cx="398.38" cy="245.7" rx="2.4" ry="1.2" fill="#3c5fae"/>
<ellipse cx="398.38" cy="241.8" rx="2.3" ry="1.5" fill="#3c5fae"/>
<ellipse cx="406.56" cy="236.9" rx="2.4" ry="1.2" fill="#3c5fae"/>
<ellipse cx="406.56" cy="244.7" rx="2.4" ry="1.2" fill="#3c5fae"/>
<ellipse cx="406.56" cy="240.8" rx="2.3" ry="1.5" fill="#3c5fae"/>
<ellipse cx="414.75" cy="235.8" rx="2.4" ry="1.2" fill="#3c5fae"/>
<ellipse cx="414.75" cy="244.2" rx="2.4" ry="1.2" fill="#3c5fae"/>
<ellipse cx="414.75" cy="240" rx="2.3" ry="1.5" fill="#3c5fae"/>
<ellipse cx="422.94" cy="235.5" rx="2.4" ry="1.2" fill="#3c5fae"/>
<ellipse cx="422.94" cy="243.1" rx="2.4" ry="1.2" fill="#3c5fae"/>
<ellipse cx="422.94" cy="239.3" rx="2.3" ry="1.5" fill="#3c5fae"/>
<ellipse cx="431.12" cy="235.1" rx="2.4" ry="1.2" fill="#3c5fae"/>
<ellipse cx="431.12" cy="242.7" rx="2.4" ry="1.2" fill="#3c5fae"/>
<ellipse cx="431.12" cy="238.9" rx="2.3" ry="1.5" fill="#3c5fae"/>
<ellipse cx="439.31" cy="234.5" rx="2.4" ry="1.2" fill="#3c5fae"/>
<ellipse cx="439.31" cy="242.3" rx="2.4" ry="1.2" fill="#3c5fae"/>
<ellipse cx="439.31" cy="238.4" rx="2.3" ry="1.5" fill="#3c5fae"/>
<ellipse cx="447.5" cy="234.4" rx="2.4" ry="1.2" fill="#3c5fae"/>
<ellipse cx="447.5" cy="242.4" rx="2.4" ry="1.2" fill="#3c5fae"/>
<ellipse cx="447.5" cy="238.4" rx="2.3" ry="1.5" fill="#3c5fae"/>
<path d="M251 268.4 253.46 268.06 255.91 267.73 258.37 267.41 260.82 267.09 263.28 266.77 265.74 266.47 268.19 266.16 270.65 265.87 273.11 265.57 275.56 265.29 278.02 265.01 280.48 264.73 282.93 264.46 285.39 264.19 287.84 263.93 290.3 263.67 292.76 263.42 295.21 263.17 297.67 262.93 300.12 262.69 302.58 262.45 305.04 262.22 307.49 262 309.95 261.77 312.41 261.55 314.86 261.34 317.32 261.13 319.77 260.92 322.23 260.72 324.69 260.52 327.14 260.32 329.6 260.13 332.06 259.94 334.51 259.75 336.97 259.57 339.43 259.39 341.88 259.22 344.34 259.04 346.79 258.87 349.25 258.71 351.71 258.54 354.16 258.38 356.62 258.22 359.07 258.07 361.53 257.91 363.99 257.76 366.44 257.62 368.9 257.47 371.36 257.33 373.81 257.19 376.27 257.05 378.73 256.92 381.18 256.79 383.64 256.66 386.09 256.53 388.55 256.4 391.01 256.28 393.46 256.16 395.92 256.04 398.38 255.93 400.83 255.81 403.29 255.7 405.74 255.59 408.2 255.48 410.66 255.37 413.11 255.27 415.57 255.17 418.02 255.06 420.48 254.97 422.94 254.87 425.39 254.77 427.85 254.68 430.31 254.59 432.76 254.5 435.22 254.41 437.67 254.32 440.13 254.23 442.59 254.15 445.04 254.07 447.5 253.99" fill="none" stroke="#e8213a" stroke-width="0.9"/>
<ellipse cx="251" cy="267.8" rx="2.4" ry="1.9" fill="#e8213a"/>
<ellipse cx="259.19" cy="266.3" rx="2.4" ry="1.9" fill="#e8213a"/>
<ellipse cx="267.38" cy="265.1" rx="2.4" ry="1.9" fill="#e8213a"/>
<ellipse cx="275.56" cy="264.4" rx="2.4" ry="1.9" fill="#e8213a"/>
<ellipse cx="283.75" cy="263.7" rx="2.4" ry="1.9" fill="#e8213a"/>
<ellipse cx="291.94" cy="263" rx="2.4" ry="1.9" fill="#e8213a"/>
<ellipse cx="300.12" cy="262.2" rx="2.4" ry="1.9" fill="#e8213a"/>
<ellipse cx="308.31" cy="261.5" rx="2.4" ry="1.9" fill="#e8213a"/>
<ellipse cx="316.5" cy="260.8" rx="2.4" ry="1.9" fill="#e8213a"/>
<ellipse cx="324.69" cy="260.3" rx="2.4" ry="1.9" fill="#e8213a"/>
<ellipse cx="332.88" cy="259.7" rx="2.4" ry="1.9" fill="#e8213a"/>
<ellipse cx="341.06" cy="259.3" rx="2.4" ry="1.9" fill="#e8213a"/>
<ellipse cx="349.25" cy="258.5" rx="2.4" ry="1.9" fill="#e8213a"/>
<ellipse cx="357.44" cy="257.8" rx="2.4" ry="1.9" fill="#e8213a"/>
<ellipse cx="365.62" cy="257.6" rx="2.4" ry="1.9" fill="#e8213a"/>
<ellipse cx="373.81" cy="257.1" rx="2.4" ry="1.9" fill="#e8213a"/>
<ellipse cx="382" cy="256.6" rx="2.4" ry="1.9" fill="#e8213a"/>
<ellipse cx="390.19" cy="256" rx="2.4" ry="1.9" fill="#e8213a"/>
<ellipse cx="398.38" cy="255.7" rx="2.4" ry="1.9" fill="#e8213a"/>
<ellipse cx="406.56" cy="255" rx="2.4" ry="1.9" fill="#e8213a"/>
<ellipse cx="414.75" cy="254.6" rx="2.4" ry="1.9" fill="#e8213a"/>
<ellipse cx="422.94" cy="254.2" rx="2.4" ry="1.9" fill="#e8213a"/>
<ellipse cx="431.12" cy="253.8" rx="2.4" ry="1.9" fill="#e8213a"/>
<ellipse cx="439.31" cy="253.2" rx="2.4" ry="1.9" fill="#e8213a"/>
<ellipse cx="447.5" cy="252.7" rx="2.4" ry="1.9" fill="#e8213a"/>
<line x1="251" y1="190.9" x2="256.2" y2="190.9" stroke="#2e2e2e" stroke-width="1.0" />
<line x1="251" y1="216.6" x2="256.2" y2="216.6" stroke="#2e2e2e" stroke-width="1.0" />
<line x1="251" y1="242.5" x2="256.2" y2="242.5" stroke="#2e2e2e" stroke-width="1.0" />
<line x1="291.94" y1="268.4" x2="291.94" y2="265.6" stroke="#2e2e2e" stroke-width="0.9" />
<line x1="332.88" y1="268.4" x2="332.88" y2="265.6" stroke="#2e2e2e" stroke-width="0.9" />
<line x1="373.81" y1="268.4" x2="373.81" y2="265.6" stroke="#2e2e2e" stroke-width="0.9" />
<line x1="414.75" y1="268.4" x2="414.75" y2="265.6" stroke="#2e2e2e" stroke-width="0.9" />
<text transform="translate(251.3 280.2) scale(0.9709 1)" font-size="9.58" text-anchor="middle" fill="#1f1f1f" >0</text>
<text transform="translate(291.94 280.2) scale(0.9709 1)" font-size="9.58" text-anchor="middle" fill="#1f1f1f" >50</text>
<text transform="translate(332.88 280.2) scale(0.9709 1)" font-size="9.58" text-anchor="middle" fill="#1f1f1f" >100</text>
<text transform="translate(373.81 280.2) scale(0.9709 1)" font-size="9.58" text-anchor="middle" fill="#1f1f1f" >150</text>
<text transform="translate(414.75 280.2) scale(0.9709 1)" font-size="9.58" text-anchor="middle" fill="#1f1f1f" >200</text>
<ellipse cx="265.7" cy="173.3" rx="2.6" ry="1.5" fill="#c9cbc9"/>
<text transform="translate(274.6 175.3) scale(0.9709 1)" font-size="9.68" text-anchor="start" fill="#1f1f1f" >BTTAA (100 nM)</text>
<ellipse cx="265.7" cy="182.4" rx="2.6" ry="1.5" fill="#e8213a"/>
<text transform="translate(274.6 184.2) scale(0.9709 1)" font-size="9.68" text-anchor="start" fill="#1f1f1f" >BTTAA (500 nM)</text>
<ellipse cx="265.7" cy="191.5" rx="2.6" ry="1.5" fill="#3c5fae"/>
<text transform="translate(274.6 193.2) scale(0.9709 1)" font-size="9.68" text-anchor="start" fill="#1f1f1f" >BTTAA (1000 nM)</text>
<path d="M43.2 288.75 H239 V394.8" fill="none" stroke="#3e3e3e" stroke-width="1.05"/>
<path d="M43.2 288.35 V394.8 H239.4" fill="none" stroke="#585858" stroke-width="1.7"/>
<path d="M43.2 393 239.4 390" fill="none" stroke="#c9cbc9" stroke-width="1.0"/>
<ellipse cx="43.2" cy="393.3" rx="2.7" ry="2.3" fill="#c9cbc9"/>
<ellipse cx="59.55" cy="392" rx="2.7" ry="2.3" fill="#c9cbc9"/>
<ellipse cx="75.9" cy="391.9" rx="2.7" ry="2.3" fill="#c9cbc9"/>
<ellipse cx="92.25" cy="391.8" rx="2.7" ry="2.3" fill="#c9cbc9"/>
<ellipse cx="108.6" cy="391.5" rx="2.7" ry="2.3" fill="#c9cbc9"/>
<ellipse cx="124.95" cy="391.3" rx="2.7" ry="2.3" fill="#c9cbc9"/>
<ellipse cx="141.3" cy="391.1" rx="2.7" ry="2.3" fill="#c9cbc9"/>
<ellipse cx="157.65" cy="390.8" rx="2.7" ry="2.3" fill="#c9cbc9"/>
<ellipse cx="174" cy="390.6" rx="2.7" ry="2.3" fill="#c9cbc9"/>
<ellipse cx="190.35" cy="390.5" rx="2.7" ry="2.3" fill="#c9cbc9"/>
<ellipse cx="206.7" cy="390.3" rx="2.7" ry="2.3" fill="#c9cbc9"/>
<ellipse cx="223.05" cy="390.1" rx="2.7" ry="2.3" fill="#c9cbc9"/>
<ellipse cx="239.4" cy="390" rx="2.7" ry="2.3" fill="#c9cbc9"/>
<path d="M43.2 388.9 59.55 376.5 75.9 364.4 92.25 354.2 108.6 345.1 124.95 337.3 141.3 331.1 157.65 326 174 321.6 190.35 318.2 206.7 315.8 223.05 314.3 239.4 313.6" fill="none" stroke="#e8213a" stroke-width="0.9"/>
<ellipse cx="43.2" cy="388.9" rx="2.6" ry="2.1" fill="#e8213a"/>
<ellipse cx="59.55" cy="376.5" rx="2.6" ry="2.1" fill="#e8213a"/>
<ellipse cx="75.9" cy="364.4" rx="2.6" ry="2.1" fill="#e8213a"/>
<ellipse cx="92.25" cy="354.2" rx="2.6" ry="2.1" fill="#e8213a"/>
<ellipse cx="108.6" cy="345.1" rx="2.6" ry="2.1" fill="#e8213a"/>
<ellipse cx="124.95" cy="336.3" rx="2.4" ry="1.2" fill="#e8213a"/>
<ellipse cx="124.95" cy="338.3" rx="2.4" ry="1.2" fill="#e8213a"/>
<ellipse cx="124.95" cy="337.3" rx="2.6" ry="2.1" fill="#e8213a"/>
<ellipse cx="141.3" cy="329.8" rx="2.4" ry="1.2" fill="#e8213a"/>
<ellipse cx="141.3" cy="332.4" rx="2.4" ry="1.2" fill="#e8213a"/>
<ellipse cx="141.3" cy="331.1" rx="2.6" ry="2.1" fill="#e8213a"/>
<ellipse cx="157.65" cy="324.5" rx="2.4" ry="1.2" fill="#e8213a"/>
<ellipse cx="157.65" cy="327.5" rx="2.4" ry="1.2" fill="#e8213a"/>
<ellipse cx="157.65" cy="326" rx="2.6" ry="2.1" fill="#e8213a"/>
<ellipse cx="174" cy="320.1" rx="2.4" ry="1.2" fill="#e8213a"/>
<ellipse cx="174" cy="323.1" rx="2.4" ry="1.2" fill="#e8213a"/>
<ellipse cx="174" cy="321.6" rx="2.6" ry="2.1" fill="#e8213a"/>
<ellipse cx="190.35" cy="316.6" rx="2.4" ry="1.2" fill="#e8213a"/>
<ellipse cx="190.35" cy="319.8" rx="2.4" ry="1.2" fill="#e8213a"/>
<ellipse cx="190.35" cy="318.2" rx="2.6" ry="2.1" fill="#e8213a"/>
<ellipse cx="206.7" cy="314" rx="2.4" ry="1.2" fill="#e8213a"/>
<ellipse cx="206.7" cy="317.6" rx="2.4" ry="1.2" fill="#e8213a"/>
<ellipse cx="206.7" cy="315.8" rx="2.6" ry="2.1" fill="#e8213a"/>
<ellipse cx="223.05" cy="312.4" rx="2.4" ry="1.2" fill="#e8213a"/>
<ellipse cx="223.05" cy="316.2" rx="2.4" ry="1.2" fill="#e8213a"/>
<ellipse cx="223.05" cy="314.3" rx="2.6" ry="2.1" fill="#e8213a"/>
<ellipse cx="239.4" cy="311.8" rx="2.4" ry="1.2" fill="#e8213a"/>
<ellipse cx="239.4" cy="315.4" rx="2.4" ry="1.2" fill="#e8213a"/>
<ellipse cx="239.4" cy="313.6" rx="2.6" ry="2.1" fill="#e8213a"/>
<path d="M43.2 384.1 46.47 376 49.74 368.62 53.01 361.89 56.28 355.74 59.55 350.14 62.82 345.03 66.09 340.37 69.36 336.12 72.63 332.24 75.9 328.7 79.17 325.48 82.44 322.54 85.71 319.85 88.98 317.4 92.25 315.17 95.52 313.13 98.79 311.28 102.06 309.58 105.33 308.04 108.6 306.63 111.87 305.34 115.14 304.17 118.41 303.1 121.68 302.12 124.95 301.23 128.22 300.42 131.49 299.68 134.76 299.01 138.03 298.39 141.3 297.83 144.57 297.32 147.84 296.85 151.11 296.42 154.38 296.03 157.65 295.68 160.92 295.36 164.19 295.06 167.46 294.79 170.73 294.55 174 294.32 177.27 294.12 180.54 293.93 183.81 293.76 187.08 293.61 190.35 293.47 193.62 293.34 196.89 293.22 200.16 293.11 203.43 293.01 206.7 292.93 209.97 292.84 213.24 292.77 216.51 292.7 219.78 292.64 223.05 292.58 226.32 292.53 229.59 292.49 232.86 292.44 236.13 292.4 239.4 292.37" fill="none" stroke="#3c5fae" stroke-width="0.9"/>
<ellipse cx="43.2" cy="384.1" rx="2.6" ry="1.8" fill="#3c5fae"/>
<ellipse cx="59.55" cy="354.4" rx="2.6" ry="1.4" fill="#3c5fae"/>
<ellipse cx="59.55" cy="358.4" rx="2.6" ry="1.4" fill="#3c5fae"/>
<ellipse cx="59.55" cy="356.4" rx="2.6" ry="1.5" fill="#3c5fae"/>
<ellipse cx="75.9" cy="330.5" rx="2.6" ry="1.4" fill="#3c5fae"/>
<ellipse cx="75.9" cy="338.1" rx="2.6" ry="1.4" fill="#3c5fae"/>
<ellipse cx="75.9" cy="334.3" rx="2.6" ry="1.5" fill="#3c5fae"/>
<ellipse cx="92.25" cy="313.7" rx="2.6" ry="1.4" fill="#3c5fae"/>
<ellipse cx="92.25" cy="322.7" rx="2.6" ry="1.4" fill="#3c5fae"/>
<ellipse cx="92.25" cy="318.2" rx="2.6" ry="1.5" fill="#3c5fae"/>
<ellipse cx="108.6" cy="301.2" rx="2.6" ry="1.4" fill="#3c5fae"/>
<ellipse cx="108.6" cy="309.8" rx="2.6" ry="1.4" fill="#3c5fae"/>
<ellipse cx="108.6" cy="305.5" rx="2.6" ry="1.5" fill="#3c5fae"/>
<ellipse cx="124.95" cy="293.8" rx="2.6" ry="1.4" fill="#3c5fae"/>
<ellipse cx="124.95" cy="300.6" rx="2.6" ry="1.4" fill="#3c5fae"/>
<ellipse cx="124.95" cy="297.2" rx="2.6" ry="1.5" fill="#3c5fae"/>
<ellipse cx="141.3" cy="289.8" rx="2.6" ry="1.4" fill="#3c5fae"/>
<ellipse cx="141.3" cy="295" rx="2.6" ry="1.4" fill="#3c5fae"/>
<ellipse cx="141.3" cy="292.4" rx="2.6" ry="1.5" fill="#3c5fae"/>
<ellipse cx="157.65" cy="292.4" rx="2.6" ry="1.8" fill="#3c5fae"/>
<ellipse cx="174" cy="289.1" rx="2.6" ry="1.4" fill="#3c5fae"/>
<ellipse cx="174" cy="292.7" rx="2.6" ry="1.4" fill="#3c5fae"/>
<ellipse cx="174" cy="290.9" rx="2.6" ry="1.5" fill="#3c5fae"/>
<ellipse cx="190.35" cy="290.4" rx="2.6" ry="1.4" fill="#3c5fae"/>
<ellipse cx="190.35" cy="294.4" rx="2.6" ry="1.4" fill="#3c5fae"/>
<ellipse cx="190.35" cy="292.4" rx="2.6" ry="1.5" fill="#3c5fae"/>
<ellipse cx="206.7" cy="291.8" rx="2.6" ry="1.4" fill="#3c5fae"/>
<ellipse cx="206.7" cy="295.4" rx="2.6" ry="1.4" fill="#3c5fae"/>
<ellipse cx="206.7" cy="293.6" rx="2.6" ry="1.5" fill="#3c5fae"/>
<ellipse cx="223.05" cy="294.8" rx="2.6" ry="1.4" fill="#3c5fae"/>
<ellipse cx="223.05" cy="296.8" rx="2.6" ry="1.4" fill="#3c5fae"/>
<ellipse cx="223.05" cy="295.8" rx="2.6" ry="1.5" fill="#3c5fae"/>
<ellipse cx="239.4" cy="297.1" rx="2.6" ry="1.4" fill="#3c5fae"/>
<ellipse cx="239.4" cy="300.3" rx="2.6" ry="1.4" fill="#3c5fae"/>
<ellipse cx="239.4" cy="298.7" rx="2.6" ry="1.5" fill="#3c5fae"/>
<path d="M157.65 280.6 C159.15 283.5 160.35 288 160.35 293.4 Q160.25 295.7 157.65 295.7 Q155.05 295.7 154.95 293.4 C154.95 288 156.15 283.5 157.65 280.6Z" fill="#3c5fae"/>
<line x1="43.2" y1="373.9" x2="47.8" y2="373.9" stroke="#585858" stroke-width="1.1" />
<text transform="translate(43.1 374.8) scale(0.9709 1)" font-size="9.58" text-anchor="end" fill="#1f1f1f" >1000</text>
<line x1="43.2" y1="348.5" x2="47.8" y2="348.5" stroke="#585858" stroke-width="1.1" />
<text transform="translate(43.1 349.4) scale(0.9709 1)" font-size="9.58" text-anchor="end" fill="#1f1f1f" >2000</text>
<line x1="43.2" y1="323.2" x2="47.8" y2="323.2" stroke="#585858" stroke-width="1.1" />
<text transform="translate(43.1 324.1) scale(0.9709 1)" font-size="9.58" text-anchor="end" fill="#1f1f1f" >3000</text>
<line x1="43.2" y1="297.6" x2="47.8" y2="297.6" stroke="#585858" stroke-width="1.1" />
<text transform="translate(43.1 298.5) scale(0.9709 1)" font-size="9.58" text-anchor="end" fill="#1f1f1f" >4000</text>
<text transform="translate(41 397.6) scale(0.9709 1)" font-size="9.58" text-anchor="end" fill="#1f1f1f" >0</text>
<line x1="75.9" y1="394.8" x2="75.9" y2="392.2" stroke="#585858" stroke-width="1.0" />
<line x1="108.6" y1="394.8" x2="108.6" y2="392.2" stroke="#585858" stroke-width="1.0" />
<line x1="141.3" y1="394.8" x2="141.3" y2="392.2" stroke="#585858" stroke-width="1.0" />
<line x1="174" y1="394.8" x2="174" y2="392.2" stroke="#585858" stroke-width="1.0" />
<line x1="206.7" y1="394.8" x2="206.7" y2="392.2" stroke="#585858" stroke-width="1.0" />
<text transform="translate(43.8 405.9) scale(0.9709 1)" font-size="9.58" text-anchor="middle" fill="#1f1f1f" >0</text>
<text transform="translate(76.5 405.9) scale(0.9709 1)" font-size="9.58" text-anchor="middle" fill="#1f1f1f" >20</text>
<text transform="translate(109.2 405.9) scale(0.9709 1)" font-size="9.58" text-anchor="middle" fill="#1f1f1f" >40</text>
<text transform="translate(141.9 405.9) scale(0.9709 1)" font-size="9.58" text-anchor="middle" fill="#1f1f1f" >60</text>
<text transform="translate(174.6 405.9) scale(0.9709 1)" font-size="9.58" text-anchor="middle" fill="#1f1f1f" >80</text>
<text transform="translate(207.3 405.9) scale(0.9709 1)" font-size="9.58" text-anchor="middle" fill="#1f1f1f" >100</text>
<text transform="translate(237.8 405.9) scale(0.9709 1)" font-size="9.58" text-anchor="middle" fill="#1f1f1f" >120</text>
<text transform="translate(142.2 416.3) scale(0.9709 1)" font-size="9.68" text-anchor="middle" fill="#1f1f1f" >Time (min)</text>
<text transform="translate(6.6 337.95) rotate(-90) scale(0.9709 1)" font-size="9.54" text-anchor="middle" fill="#1f1f1f">Intensity (RFUs)</text>
<text transform="translate(18.6 338.4) rotate(-90) scale(0.9709 1)" font-size="9.65" text-anchor="middle" fill="#1f1f1f">CalFluor 488 Azide</text>
<path d="M251 288.75 H447.5 V394.8" fill="none" stroke="#3e3e3e" stroke-width="1.05"/>
<path d="M251 288.35 V394.8 H447.9" fill="none" stroke="#222" stroke-width="1.1"/>
<path d="M251 392.6 267.38 391.68 283.75 390.99 300.12 390.47 316.5 390.09 332.88 389.82 349.25 389.63 365.62 389.5 382 389.42 398.38 389.38 414.75 389.38 431.12 389.39 447.5 389.43" fill="none" stroke="#c9cbc9" stroke-width="1.0"/>
<ellipse cx="251" cy="392.6" rx="2.5" ry="2.1" fill="#c9cbc9"/>
<ellipse cx="267.38" cy="391.68" rx="2.5" ry="2.1" fill="#c9cbc9"/>
<ellipse cx="283.75" cy="390.99" rx="2.5" ry="2.1" fill="#c9cbc9"/>
<ellipse cx="300.12" cy="390.47" rx="2.5" ry="2.1" fill="#c9cbc9"/>
<ellipse cx="316.5" cy="390.09" rx="2.5" ry="2.1" fill="#c9cbc9"/>
<ellipse cx="332.88" cy="389.82" rx="2.5" ry="2.1" fill="#c9cbc9"/>
<ellipse cx="349.25" cy="389.63" rx="2.5" ry="2.1" fill="#c9cbc9"/>
<ellipse cx="365.62" cy="389.5" rx="2.5" ry="2.1" fill="#c9cbc9"/>
<ellipse cx="382" cy="389.42" rx="2.5" ry="2.1" fill="#c9cbc9"/>
<ellipse cx="398.38" cy="389.38" rx="2.5" ry="2.1" fill="#c9cbc9"/>
<ellipse cx="414.75" cy="389.38" rx="2.5" ry="2.1" fill="#c9cbc9"/>
<ellipse cx="431.12" cy="389.39" rx="2.5" ry="2.1" fill="#c9cbc9"/>
<ellipse cx="447.5" cy="389.43" rx="2.5" ry="2.1" fill="#c9cbc9"/>
<path d="M251 393.7 267.38 390.4 283.75 389.3 300.12 388.2 316.5 387.9 332.88 387.2 349.25 387 365.62 386.2 382 385.7 398.38 385.6 414.75 385 431.12 385 447.5 384.5" fill="none" stroke="#e8213a" stroke-width="0.9"/>
<ellipse cx="251" cy="392.8" rx="2.4" ry="1.2" fill="#e8213a"/>
<ellipse cx="251" cy="394.6" rx="2.4" ry="1.2" fill="#e8213a"/>
<ellipse cx="251" cy="393.7" rx="2.5" ry="2.0" fill="#e8213a"/>
<ellipse cx="267.38" cy="389.5" rx="2.4" ry="1.2" fill="#e8213a"/>
<ellipse cx="267.38" cy="391.3" rx="2.4" ry="1.2" fill="#e8213a"/>
<ellipse cx="267.38" cy="390.4" rx="2.5" ry="2.0" fill="#e8213a"/>
<ellipse cx="283.75" cy="388.4" rx="2.4" ry="1.2" fill="#e8213a"/>
<ellipse cx="283.75" cy="390.2" rx="2.4" ry="1.2" fill="#e8213a"/>
<ellipse cx="283.75" cy="389.3" rx="2.5" ry="2.0" fill="#e8213a"/>
<ellipse cx="300.12" cy="387.1" rx="2.4" ry="1.2" fill="#e8213a"/>
<ellipse cx="300.12" cy="389.3" rx="2.4" ry="1.2" fill="#e8213a"/>
<ellipse cx="300.12" cy="388.2" rx="2.5" ry="2.0" fill="#e8213a"/>
<ellipse cx="316.5" cy="387.9" rx="2.5" ry="2.0" fill="#e8213a"/>
<ellipse cx="332.88" cy="387.2" rx="2.5" ry="2.0" fill="#e8213a"/>
<ellipse cx="349.25" cy="387" rx="2.5" ry="2.0" fill="#e8213a"/>
<ellipse cx="365.62" cy="385.3" rx="2.4" ry="1.2" fill="#e8213a"/>
<ellipse cx="365.62" cy="387.1" rx="2.4" ry="1.2" fill="#e8213a"/>
<ellipse cx="365.62" cy="386.2" rx="2.5" ry="2.0" fill="#e8213a"/>
<ellipse cx="382" cy="384.5" rx="2.4" ry="1.2" fill="#e8213a"/>
<ellipse cx="382" cy="386.9" rx="2.4" ry="1.2" fill="#e8213a"/>
<ellipse cx="382" cy="385.7" rx="2.5" ry="2.0" fill="#e8213a"/>
<ellipse cx="398.38" cy="385.6" rx="2.5" ry="2.0" fill="#e8213a"/>
<ellipse cx="414.75" cy="384" rx="2.4" ry="1.2" fill="#e8213a"/>
<ellipse cx="414.75" cy="386" rx="2.4" ry="1.2" fill="#e8213a"/>
<ellipse cx="414.75" cy="385" rx="2.5" ry="2.0" fill="#e8213a"/>
<ellipse cx="431.12" cy="385" rx="2.5" ry="2.0" fill="#e8213a"/>
<ellipse cx="447.5" cy="383.8" rx="2.4" ry="1.2" fill="#e8213a"/>
<ellipse cx="447.5" cy="385.2" rx="2.4" ry="1.2" fill="#e8213a"/>
<ellipse cx="447.5" cy="384.5" rx="2.5" ry="2.0" fill="#e8213a"/>
<path d="M251 390.4 267.38 386 283.75 380.1 300.12 376.2 316.5 373.3 332.88 370.7 349.25 367.9 365.62 365.4 382 362.9 398.38 361.1 414.75 359.1 431.12 357.8 447.5 356.8" fill="none" stroke="#3c5fae" stroke-width="0.9"/>
<ellipse cx="251" cy="389.4" rx="2.4" ry="1.2" fill="#3c5fae"/>
<ellipse cx="251" cy="391.4" rx="2.4" ry="1.2" fill="#3c5fae"/>
<ellipse cx="251" cy="390.4" rx="2.5" ry="2.0" fill="#3c5fae"/>
<ellipse cx="267.38" cy="380.9" rx="2.4" ry="1.2" fill="#3c5fae"/>
<ellipse cx="267.38" cy="391.1" rx="2.4" ry="1.2" fill="#3c5fae"/>
<ellipse cx="267.38" cy="386" rx="2.5" ry="2.0" fill="#3c5fae"/>
<ellipse cx="283.75" cy="376.7" rx="2.4" ry="1.2" fill="#3c5fae"/>
<ellipse cx="283.75" cy="383.5" rx="2.4" ry="1.2" fill="#3c5fae"/>
<ellipse cx="283.75" cy="380.1" rx="2.5" ry="2.0" fill="#3c5fae"/>
<ellipse cx="300.12" cy="374.8" rx="2.4" ry="1.2" fill="#3c5fae"/>
<ellipse cx="300.12" cy="377.6" rx="2.4" ry="1.2" fill="#3c5fae"/>
<ellipse cx="300.12" cy="376.2" rx="2.5" ry="2.0" fill="#3c5fae"/>
<ellipse cx="316.5" cy="372.4" rx="2.4" ry="1.2" fill="#3c5fae"/>
<ellipse cx="316.5" cy="374.2" rx="2.4" ry="1.2" fill="#3c5fae"/>
<ellipse cx="316.5" cy="373.3" rx="2.5" ry="2.0" fill="#3c5fae"/>
<ellipse cx="332.88" cy="370.7" rx="2.5" ry="2.0" fill="#3c5fae"/>
<ellipse cx="349.25" cy="367.9" rx="2.5" ry="2.0" fill="#3c5fae"/>
<ellipse cx="365.62" cy="365.4" rx="2.5" ry="2.0" fill="#3c5fae"/>
<ellipse cx="382" cy="362.1" rx="2.4" ry="1.2" fill="#3c5fae"/>
<ellipse cx="382" cy="363.7" rx="2.4" ry="1.2" fill="#3c5fae"/>
<ellipse cx="382" cy="362.9" rx="2.5" ry="2.0" fill="#3c5fae"/>
<ellipse cx="398.38" cy="361.1" rx="2.5" ry="2.0" fill="#3c5fae"/>
<ellipse cx="414.75" cy="358.1" rx="2.4" ry="1.2" fill="#3c5fae"/>
<ellipse cx="414.75" cy="360.1" rx="2.4" ry="1.2" fill="#3c5fae"/>
<ellipse cx="414.75" cy="359.1" rx="2.5" ry="2.0" fill="#3c5fae"/>
<ellipse cx="431.12" cy="356.5" rx="2.4" ry="1.2" fill="#3c5fae"/>
<ellipse cx="431.12" cy="359.1" rx="2.4" ry="1.2" fill="#3c5fae"/>
<ellipse cx="431.12" cy="357.8" rx="2.5" ry="2.0" fill="#3c5fae"/>
<ellipse cx="447.5" cy="355.3" rx="2.4" ry="1.2" fill="#3c5fae"/>
<ellipse cx="447.5" cy="358.3" rx="2.4" ry="1.2" fill="#3c5fae"/>
<ellipse cx="447.5" cy="356.8" rx="2.5" ry="2.0" fill="#3c5fae"/>
<line x1="251" y1="296.4" x2="256.2" y2="296.4" stroke="#2e2e2e" stroke-width="1.0" />
<line x1="251" y1="321.4" x2="256.2" y2="321.4" stroke="#2e2e2e" stroke-width="1.0" />
<line x1="251" y1="346.1" x2="256.2" y2="346.1" stroke="#2e2e2e" stroke-width="1.0" />
<line x1="251" y1="370.7" x2="256.2" y2="370.7" stroke="#2e2e2e" stroke-width="1.0" />
<line x1="283.75" y1="394.8" x2="283.75" y2="392.6" stroke="#2e2e2e" stroke-width="0.9" />
<line x1="316.5" y1="394.8" x2="316.5" y2="392.6" stroke="#2e2e2e" stroke-width="0.9" />
<line x1="349.25" y1="394.8" x2="349.25" y2="392.6" stroke="#2e2e2e" stroke-width="0.9" />
<line x1="382" y1="394.8" x2="382" y2="392.6" stroke="#2e2e2e" stroke-width="0.9" />
<line x1="414.75" y1="394.8" x2="414.75" y2="392.6" stroke="#2e2e2e" stroke-width="0.9" />
<text transform="translate(252 406.4) scale(0.9709 1)" font-size="9.58" text-anchor="middle" fill="#1f1f1f" >0</text>
<text transform="translate(283.75 406.4) scale(0.9709 1)" font-size="9.58" text-anchor="middle" fill="#1f1f1f" >20</text>
<text transform="translate(316.5 406.4) scale(0.9709 1)" font-size="9.58" text-anchor="middle" fill="#1f1f1f" >40</text>
<text transform="translate(349.25 406.4) scale(0.9709 1)" font-size="9.58" text-anchor="middle" fill="#1f1f1f" >60</text>
<text transform="translate(382 406.4) scale(0.9709 1)" font-size="9.58" text-anchor="middle" fill="#1f1f1f" >80</text>
<text transform="translate(414.75 406.4) scale(0.9709 1)" font-size="9.58" text-anchor="middle" fill="#1f1f1f" >100</text>
<text transform="translate(447.5 406.4) scale(0.9709 1)" font-size="9.58" text-anchor="middle" fill="#1f1f1f" >120</text>
<text transform="translate(348 417) scale(0.9709 1)" font-size="9.68" text-anchor="middle" fill="#1f1f1f" >Time (min)</text>
<rect x="481.8" y="163.4" width="201.7" height="103.9" fill="none" stroke="#444" stroke-width="0.9"/>
<line x1="500.1" y1="253.7" x2="674.3" y2="174.3" stroke="#222" stroke-width="0.9" />
<line x1="500.1" y1="248.4" x2="674.3" y2="234" stroke="#e8213a" stroke-width="0.9" />
<ellipse cx="500.2" cy="258.2" rx="2.4" ry="2.0" fill="#161616"/>
<ellipse cx="577.4" cy="211.3" rx="2.4" ry="2.0" fill="#161616"/>
<ellipse cx="674.3" cy="177.8" rx="2.4" ry="2.0" fill="#161616"/>
<ellipse cx="500.2" cy="246.5" rx="2.4" ry="2.0" fill="#e8213a"/>
<ellipse cx="577.4" cy="246.7" rx="2.4" ry="2.0" fill="#e8213a"/>
<ellipse cx="674.3" cy="231.5" rx="2.4" ry="2.0" fill="#e8213a"/>
<text transform="translate(482.4 167.8) scale(0.9709 1)" font-size="9.58" text-anchor="end" fill="#1f1f1f" >0.03</text>
<text transform="translate(482.4 202.2) scale(0.9709 1)" font-size="9.58" text-anchor="end" fill="#1f1f1f" >0.02</text>
<text transform="translate(482.4 236.2) scale(0.9709 1)" font-size="9.58" text-anchor="end" fill="#1f1f1f" >0.01</text>
<text transform="translate(482.2 278) scale(0.9709 1)" font-size="9.58" text-anchor="middle" fill="#1f1f1f" >0</text>
<text transform="translate(577 277) scale(0.9709 1)" font-size="9.58" text-anchor="middle" fill="#1f1f1f" >500</text>
<text transform="translate(685.6 277) scale(0.9709 1)" font-size="9.58" text-anchor="end" fill="#1f1f1f" >1000</text>
<text transform="translate(558 202) scale(0.9709 1)" font-size="9.89" text-anchor="start" fill="#1f1f1f" >429.4 M<tspan font-size="5.15" dy="-3.2">-1</tspan><tspan dy="3.2">s</tspan><tspan font-size="5.15" dy="-3.2">-1</tspan></text>
<text transform="translate(615.3 254.6) scale(0.9709 1)" font-size="9.89" text-anchor="start" fill="#1f1f1f" >84.0 M<tspan font-size="5.15" dy="-3.2">-1</tspan><tspan dy="3.2">s</tspan><tspan font-size="5.15" dy="-3.2">-1</tspan></text>
<ellipse cx="491.9" cy="172.6" rx="2.6" ry="1.7" fill="#161616"/>
<text transform="translate(499.2 175.9) scale(0.9709 1)" font-size="9.89" text-anchor="start" fill="#1f1f1f" >BTT-DNA</text>
<ellipse cx="491.9" cy="182.0" rx="2.5" ry="1.4" fill="#e8213a"/>
<text transform="translate(499.2 185.3) scale(0.9709 1)" font-size="9.89" text-anchor="start" fill="#1f1f1f" >BTTAA</text>
<text transform="translate(459.2 216) rotate(-90) scale(0.9709 1)" font-size="9.73" text-anchor="middle" fill="#1f1f1f">Reaction rate (min<tspan font-size="5.15" dy="-3">-1</tspan><tspan dy="3">)</tspan></text>
<rect x="481.8" y="291.6" width="197.1" height="103.6" fill="none" stroke="#444" stroke-width="0.9"/>
<line x1="500.1" y1="381.2" x2="668.2" y2="310.4" stroke="#222" stroke-width="0.9" />
<line x1="500.1" y1="359.4" x2="668.2" y2="369.4" stroke="#e8213a" stroke-width="0.9" />
<ellipse cx="500.1" cy="377.6" rx="2.4" ry="2.0" fill="#161616"/>
<ellipse cx="574.8" cy="355.1" rx="2.4" ry="2.0" fill="#161616"/>
<ellipse cx="668.2" cy="307.5" rx="2.4" ry="2.0" fill="#161616"/>
<ellipse cx="500.1" cy="362.3" rx="2.4" ry="2.0" fill="#e8213a"/>
<ellipse cx="574.8" cy="358.7" rx="2.4" ry="2.0" fill="#e8213a"/>
<ellipse cx="668.2" cy="373" rx="2.4" ry="2.0" fill="#e8213a"/>
<text transform="translate(482.4 295.6) scale(0.9709 1)" font-size="9.58" text-anchor="end" fill="#1f1f1f" >0.06</text>
<text transform="translate(482.4 329) scale(0.9709 1)" font-size="9.58" text-anchor="end" fill="#1f1f1f" >0.04</text>
<text transform="translate(482.4 366.2) scale(0.9709 1)" font-size="9.58" text-anchor="end" fill="#1f1f1f" >0.02</text>
<text transform="translate(482.2 408.2) scale(0.9709 1)" font-size="9.58" text-anchor="middle" fill="#1f1f1f" >0</text>
<text transform="translate(577 407.2) scale(0.9709 1)" font-size="9.58" text-anchor="middle" fill="#1f1f1f" >500</text>
<text transform="translate(678.6 407.2) scale(0.9709 1)" font-size="9.58" text-anchor="end" fill="#1f1f1f" >1000</text>
<text transform="translate(549.1 339.8) scale(0.9709 1)" font-size="9.89" text-anchor="start" fill="#1f1f1f" >730.0 M<tspan font-size="5.15" dy="-3.2">-1</tspan><tspan dy="3.2">s</tspan><tspan font-size="5.15" dy="-3.2">-1</tspan></text>
<text transform="translate(587.4 383.8) scale(0.9709 1)" font-size="9.89" text-anchor="start" fill="#1f1f1f" >-116.0 M<tspan font-size="5.15" dy="-3.2">-1</tspan><tspan dy="3.2">s</tspan><tspan font-size="5.15" dy="-3.2">-1</tspan></text>
<ellipse cx="490.8" cy="303.0" rx="2.6" ry="1.7" fill="#161616"/>
<text transform="translate(499.2 306.3) scale(0.9709 1)" font-size="9.89" text-anchor="start" fill="#1f1f1f" >BTT-DNA</text>
<ellipse cx="490.8" cy="310.4" rx="2.5" ry="1.4" fill="#e8213a"/>
<text transform="translate(499.2 313.7) scale(0.9709 1)" font-size="9.89" text-anchor="start" fill="#1f1f1f" >BTTAA</text>
<text transform="translate(459.2 341.7) rotate(-90) scale(0.9709 1)" font-size="9.73" text-anchor="middle" fill="#1f1f1f">Reaction rate (min<tspan font-size="5.15" dy="-3">-1</tspan><tspan dy="3">)</tspan></text>
<text transform="translate(577 419) scale(0.9709 1)" font-size="9.79" text-anchor="middle" fill="#1f1f1f" >[Ligand] (nM)</text>
</svg></body></html>
